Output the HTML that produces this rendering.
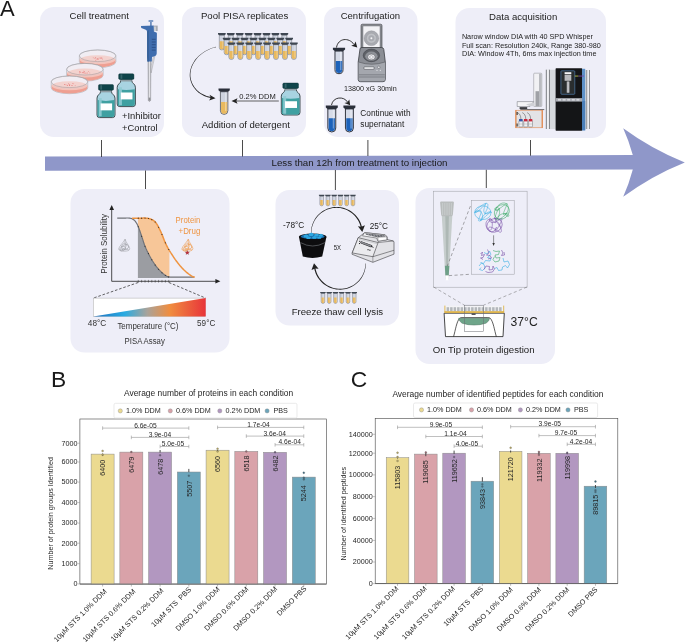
<!DOCTYPE html><html><head><meta charset="utf-8"><title>Figure</title><style>html,body{margin:0;padding:0;background:#fff}svg{display:block}</style></head><body><svg width="685" height="642" viewBox="0 0 685 642" font-family='"Liberation Sans", sans-serif'>
<rect width="685" height="642" fill="#fff"/>
<text x="0" y="15.7" font-size="22" text-anchor="start" fill="#1a1a1a" >A</text>
<text x="51" y="387.3" font-size="22.8" text-anchor="start" fill="#1a1a1a" >B</text>
<text x="350.8" y="387.4" font-size="22.8" text-anchor="start" fill="#1a1a1a" >C</text>
<rect x="40" y="7" width="124" height="130" rx="14" fill="#EEEEF8"/>
<rect x="182" y="7" width="124" height="130" rx="14" fill="#EEEEF8"/>
<rect x="324" y="7" width="93.5" height="130" rx="14" fill="#EEEEF8"/>
<rect x="455.5" y="8" width="150.5" height="130" rx="14" fill="#EEEEF8"/>
<rect x="70.5" y="189" width="159.0" height="163.5" rx="14" fill="#EEEEF8"/>
<rect x="275.5" y="190" width="123.5" height="135.5" rx="14" fill="#EEEEF8"/>
<rect x="415.5" y="188" width="139.5" height="176" rx="14" fill="#EEEEF8"/>
<path d="M45,156.6 L632.8,155.1 Q629,141 623.2,128.2 Q652,149.3 684.8,162.4 Q652,175.5 623.2,196.8 Q629,184 632.8,169.6 L45,170.8 Z" fill="#8F97C9"/>
<line x1="101.5" y1="140" x2="101.5" y2="157" stroke="#2a2a2a" stroke-width="0.85"/>
<line x1="242.5" y1="140" x2="242.5" y2="156.5" stroke="#2a2a2a" stroke-width="0.85"/>
<line x1="367.9" y1="140" x2="367.9" y2="156" stroke="#2a2a2a" stroke-width="0.85"/>
<line x1="530.5" y1="140" x2="530.5" y2="155.7" stroke="#2a2a2a" stroke-width="0.85"/>
<line x1="145.5" y1="170.5" x2="145.5" y2="189" stroke="#2a2a2a" stroke-width="0.85"/>
<line x1="335.4" y1="170" x2="335.4" y2="190" stroke="#2a2a2a" stroke-width="0.85"/>
<line x1="486.3" y1="169.8" x2="486.3" y2="188" stroke="#2a2a2a" stroke-width="0.85"/>
<text x="271.5" y="166" font-size="9.6" text-anchor="start" fill="#1a1a1a" textLength="176" lengthAdjust="spacingAndGlyphs" >Less than 12h from treatment to injection</text>
<text x="69.6" y="19" font-size="9.55" text-anchor="start" fill="#222" textLength="59.3" lengthAdjust="spacingAndGlyphs" >Cell treatment</text>
<text x="200.9" y="19" font-size="9.55" text-anchor="start" fill="#222" textLength="87.4" lengthAdjust="spacingAndGlyphs" >Pool PISA replicates</text>
<text x="340.7" y="19" font-size="9.55" text-anchor="start" fill="#222" textLength="59.3" lengthAdjust="spacingAndGlyphs" >Centrifugation</text>
<text x="489" y="20.3" font-size="9.55" text-anchor="start" fill="#222" textLength="68.3" lengthAdjust="spacingAndGlyphs" >Data acquisition</text>
<path d="M79.35,55.8 V61.9 A18.25,5.8 0 0 0 115.85,61.9 V55.8 A18.25,5.8 0 0 0 79.35,55.8 Z" fill="#F1EDF3" stroke="#9b9b9f" stroke-width="0.5"/>
<path d="M79.75,59.4 V61.8 A17.85,5.6 0 0 0 115.44999999999999,61.8 V59.4 Z" fill="#EE9F92"/>
<ellipse cx="97.6" cy="59.699999999999996" rx="17.75" ry="4.5" fill="#F5C3BA"/>
<path d="M79.64999999999999,57.0 A17.95,5.5 0 0 0 115.55,57.0" fill="none" stroke="#d9cfd4" stroke-width="0.4"/>
<ellipse cx="97.6" cy="55.8" rx="18.25" ry="5.8" fill="#F1EDF3" fill-opacity="0.35" stroke="#9b9b9f" stroke-width="0.5"/>
<circle cx="98.0" cy="58.9" r="0.42" fill="#E56E6E"/>
<circle cx="97.5" cy="58.8" r="0.42" fill="#E56E6E"/>
<circle cx="93.2" cy="57.8" r="0.42" fill="#E56E6E"/>
<circle cx="94.9" cy="58.7" r="0.42" fill="#E56E6E"/>
<circle cx="97.6" cy="59.0" r="0.42" fill="#E56E6E"/>
<circle cx="95.3" cy="57.6" r="0.42" fill="#E56E6E"/>
<circle cx="95.8" cy="60.4" r="0.42" fill="#E56E6E"/>
<circle cx="98.3" cy="59.1" r="0.42" fill="#E56E6E"/>
<circle cx="102.4" cy="59.0" r="0.42" fill="#E56E6E"/>
<circle cx="101.8" cy="57.8" r="0.42" fill="#E56E6E"/>
<circle cx="99.1" cy="58.0" r="0.42" fill="#E56E6E"/>
<circle cx="95.8" cy="57.9" r="0.42" fill="#E56E6E"/>
<circle cx="100.6" cy="58.6" r="0.42" fill="#E56E6E"/>
<circle cx="96.2" cy="59.1" r="0.42" fill="#E56E6E"/>
<circle cx="100.9" cy="57.7" r="0.42" fill="#E56E6E"/>
<circle cx="101.4" cy="58.3" r="0.42" fill="#E56E6E"/>
<path d="M66.65,69.2 V75.3 A18.25,5.8 0 0 0 103.15,75.3 V69.2 A18.25,5.8 0 0 0 66.65,69.2 Z" fill="#F1EDF3" stroke="#9b9b9f" stroke-width="0.5"/>
<path d="M67.05000000000001,72.8 V75.2 A17.85,5.6 0 0 0 102.75,75.2 V72.8 Z" fill="#EE9F92"/>
<ellipse cx="84.9" cy="73.10000000000001" rx="17.75" ry="4.5" fill="#F5C3BA"/>
<path d="M66.95,70.4 A17.95,5.5 0 0 0 102.85000000000001,70.4" fill="none" stroke="#d9cfd4" stroke-width="0.4"/>
<ellipse cx="84.9" cy="69.2" rx="18.25" ry="5.8" fill="#F1EDF3" fill-opacity="0.35" stroke="#9b9b9f" stroke-width="0.5"/>
<circle cx="88.3" cy="71.7" r="0.42" fill="#E56E6E"/>
<circle cx="79.6" cy="72.9" r="0.42" fill="#E56E6E"/>
<circle cx="82.5" cy="72.3" r="0.42" fill="#E56E6E"/>
<circle cx="84.6" cy="71.5" r="0.42" fill="#E56E6E"/>
<circle cx="82.1" cy="72.8" r="0.42" fill="#E56E6E"/>
<circle cx="85.9" cy="73.2" r="0.42" fill="#E56E6E"/>
<circle cx="83.7" cy="71.1" r="0.42" fill="#E56E6E"/>
<circle cx="84.0" cy="72.6" r="0.42" fill="#E56E6E"/>
<circle cx="89.8" cy="72.9" r="0.42" fill="#E56E6E"/>
<circle cx="84.1" cy="73.4" r="0.42" fill="#E56E6E"/>
<circle cx="80.0" cy="72.6" r="0.42" fill="#E56E6E"/>
<circle cx="83.8" cy="72.5" r="0.42" fill="#E56E6E"/>
<circle cx="86.0" cy="72.9" r="0.42" fill="#E56E6E"/>
<circle cx="87.7" cy="73.0" r="0.42" fill="#E56E6E"/>
<circle cx="80.3" cy="72.0" r="0.42" fill="#E56E6E"/>
<circle cx="79.6" cy="71.5" r="0.42" fill="#E56E6E"/>
<path d="M51.25,81.8 V87.89999999999999 A18.25,5.8 0 0 0 87.75,87.89999999999999 V81.8 A18.25,5.8 0 0 0 51.25,81.8 Z" fill="#F1EDF3" stroke="#9b9b9f" stroke-width="0.5"/>
<path d="M51.65,85.39999999999999 V87.8 A17.85,5.6 0 0 0 87.35,87.8 V85.39999999999999 Z" fill="#EE9F92"/>
<ellipse cx="69.5" cy="85.7" rx="17.75" ry="4.5" fill="#F5C3BA"/>
<path d="M51.55,83.0 A17.95,5.5 0 0 0 87.45,83.0" fill="none" stroke="#d9cfd4" stroke-width="0.4"/>
<ellipse cx="69.5" cy="81.8" rx="18.25" ry="5.8" fill="#F1EDF3" fill-opacity="0.35" stroke="#9b9b9f" stroke-width="0.5"/>
<circle cx="72.6" cy="85.6" r="0.42" fill="#E56E6E"/>
<circle cx="72.7" cy="83.4" r="0.42" fill="#E56E6E"/>
<circle cx="69.3" cy="85.4" r="0.42" fill="#E56E6E"/>
<circle cx="69.0" cy="84.2" r="0.42" fill="#E56E6E"/>
<circle cx="67.4" cy="85.2" r="0.42" fill="#E56E6E"/>
<circle cx="69.9" cy="84.8" r="0.42" fill="#E56E6E"/>
<circle cx="69.5" cy="85.0" r="0.42" fill="#E56E6E"/>
<circle cx="71.3" cy="85.7" r="0.42" fill="#E56E6E"/>
<circle cx="69.6" cy="85.6" r="0.42" fill="#E56E6E"/>
<circle cx="64.9" cy="84.5" r="0.42" fill="#E56E6E"/>
<circle cx="75.1" cy="85.3" r="0.42" fill="#E56E6E"/>
<circle cx="64.6" cy="84.6" r="0.42" fill="#E56E6E"/>
<circle cx="66.0" cy="84.8" r="0.42" fill="#E56E6E"/>
<circle cx="68.5" cy="83.6" r="0.42" fill="#E56E6E"/>
<circle cx="73.7" cy="83.8" r="0.42" fill="#E56E6E"/>
<circle cx="67.2" cy="85.5" r="0.42" fill="#E56E6E"/>
<path d="M100.60,90.21 V91.53 C100.60,94.50 97.00,94.50 97.00,98.13 V115.08 Q97.00,117.60 99.52,117.60 H112.48 Q115.00,117.60 115.00,115.08 V98.13 C115.00,94.50 111.40,94.50 111.40,91.53 V90.21 Z" fill="#A8D3E1" stroke="#1d2a2c" stroke-width="0.8"/>
<path d="M97.60,100.11 V115.08 Q97.60,117.00 99.52,117.00 H112.48 Q114.40,117.00 114.40,115.08 V100.11 Q106.00,101.76 97.60,100.11 Z" fill="#3FA0A1"/>
<rect x="98.80" y="98.13" width="2.88" height="18.15" fill="#8FCBD3" opacity="0.9"/>
<rect x="100.60" y="103.41" width="11.52" height="6.93" fill="#fff"/>
<rect x="100.90" y="90.21" width="10.20" height="2.15" fill="#8E9CA3"/>
<rect x="98.44" y="84.60" width="15.12" height="5.61" rx="1.2" fill="#0F444A" stroke="#0b2f33" stroke-width="0.4"/>
<rect x="100.25" y="85.20" width="1.81" height="4.41" fill="#3d6b70" opacity="0.8"/>
<path d="M120.84,79.38 V80.69 C120.84,83.64 117.20,83.64 117.20,87.25 V104.05 Q117.20,106.60 119.75,106.60 H132.85 Q135.40,106.60 135.40,104.05 V87.25 C135.40,83.64 131.76,83.64 131.76,80.69 V79.38 Z" fill="#A8D3E1" stroke="#1d2a2c" stroke-width="0.8"/>
<path d="M117.80,89.22 V104.05 Q117.80,106.00 119.75,106.00 H132.85 Q134.80,106.00 134.80,104.05 V89.22 Q126.30,90.86 117.80,89.22 Z" fill="#3FA0A1"/>
<rect x="119.02" y="87.25" width="2.91" height="18.04" fill="#8FCBD3" opacity="0.9"/>
<rect x="120.84" y="92.50" width="11.65" height="6.89" fill="#fff"/>
<rect x="121.14" y="79.38" width="10.32" height="2.13" fill="#8E9CA3"/>
<rect x="118.66" y="73.80" width="15.29" height="5.58" rx="1.2" fill="#0F444A" stroke="#0b2f33" stroke-width="0.4"/>
<rect x="120.49" y="74.40" width="1.83" height="4.38" fill="#3d6b70" opacity="0.8"/>
<g>
<rect x="150" y="21.5" width="1.8" height="4.5" fill="#6F8FBF"/>
<rect x="148.4" y="20.1" width="5" height="2" rx="0.8" fill="#7E9CC8"/>
<path d="M147.9,60 L148.2,100.3 Q149.4,103 150.7,100.3 L151,60 Z" fill="#B9BABF" stroke="#85868c" stroke-width="0.35"/>
<rect x="149" y="61" width="0.8" height="37" fill="#EDEDF0"/>
<rect x="148.6" y="97.6" width="1.8" height="3" fill="#8d8e94"/>
<path d="M155,55.5 L151.2,73 L151.1,66 L153.6,55.5 Z" fill="#D9D9DE" stroke="#8a8a90" stroke-width="0.35"/>
<rect x="153.4" y="25.6" width="4.3" height="5.4" fill="#A7ABB3"/>
<rect x="154.4" y="26.6" width="1.2" height="4.4" fill="#E5E6EA"/>
<path d="M140.9,25.9 L153.6,25.6 L153.9,31.6 L156.3,32.4 Q156.9,32.6 156.9,33.4 L156.7,53.5 Q156.6,55.4 155.2,56 L152,57 L151.8,61.4 H147.4 L147.1,56.7 L147,31.5 Q146.9,29.8 145.2,29.4 L141.3,27.9 Z" fill="#3F6DAE"/>
<path d="M147.1,31.5 V56.7 L147.4,61.4 H149 V30 Z" fill="#386299"/>
<line x1="151.8" y1="39.3" x2="155.7" y2="39.3" stroke="#2A4D86" stroke-width="0.9"/>
<line x1="151.8" y1="42.0" x2="155.7" y2="42.0" stroke="#2A4D86" stroke-width="0.9"/>
<line x1="151.8" y1="44.699999999999996" x2="155.7" y2="44.699999999999996" stroke="#2A4D86" stroke-width="0.9"/>
<line x1="151.8" y1="47.4" x2="155.7" y2="47.4" stroke="#2A4D86" stroke-width="0.9"/>
<line x1="151.8" y1="50.099999999999994" x2="155.7" y2="50.099999999999994" stroke="#2A4D86" stroke-width="0.9"/>
</g>
<text x="122" y="119.2" font-size="9.4" text-anchor="start" fill="#222" textLength="38.9" lengthAdjust="spacingAndGlyphs" >+Inhibitor</text>
<text x="122" y="131.3" font-size="9.4" text-anchor="start" fill="#222" textLength="35.6" lengthAdjust="spacingAndGlyphs" >+Control</text>
<path d="M219.31,35.21 V47.46 A2.54,2.54 0 0 0 224.39,47.46 V35.21 Z" fill="#CDD2DF" stroke="#6b7078" stroke-width="0.5"/>
<path d="M219.76,41.13 V47.46 A2.09,2.09 0 0 0 223.94,47.46 V41.13 Z" fill="#E9B95E"/>
<rect x="222.46" y="35.71" width="0.91" height="12.25" fill="#fff" opacity="0.35"/>
<path d="M218.00,33.00 H225.70 V34.22 L224.62,35.21 H219.08 L218.00,34.22 Z" fill="#3F4752"/>
<path d="M228.24,35.21 V47.46 A2.54,2.54 0 0 0 233.32,47.46 V35.21 Z" fill="#CDD2DF" stroke="#6b7078" stroke-width="0.5"/>
<path d="M228.69,41.13 V47.46 A2.09,2.09 0 0 0 232.87,47.46 V41.13 Z" fill="#E9B95E"/>
<rect x="231.39" y="35.71" width="0.91" height="12.25" fill="#fff" opacity="0.35"/>
<path d="M226.93,33.00 H234.63 V34.22 L233.55,35.21 H228.01 L226.93,34.22 Z" fill="#3F4752"/>
<path d="M237.17,35.21 V47.46 A2.54,2.54 0 0 0 242.25,47.46 V35.21 Z" fill="#CDD2DF" stroke="#6b7078" stroke-width="0.5"/>
<path d="M237.62,41.13 V47.46 A2.09,2.09 0 0 0 241.80,47.46 V41.13 Z" fill="#E9B95E"/>
<rect x="240.32" y="35.71" width="0.91" height="12.25" fill="#fff" opacity="0.35"/>
<path d="M235.86,33.00 H243.56 V34.22 L242.48,35.21 H236.94 L235.86,34.22 Z" fill="#3F4752"/>
<path d="M246.10,35.21 V47.46 A2.54,2.54 0 0 0 251.18,47.46 V35.21 Z" fill="#CDD2DF" stroke="#6b7078" stroke-width="0.5"/>
<path d="M246.55,41.13 V47.46 A2.09,2.09 0 0 0 250.73,47.46 V41.13 Z" fill="#E9B95E"/>
<rect x="249.25" y="35.71" width="0.91" height="12.25" fill="#fff" opacity="0.35"/>
<path d="M244.79,33.00 H252.49 V34.22 L251.41,35.21 H245.87 L244.79,34.22 Z" fill="#3F4752"/>
<path d="M255.03,35.21 V47.46 A2.54,2.54 0 0 0 260.11,47.46 V35.21 Z" fill="#CDD2DF" stroke="#6b7078" stroke-width="0.5"/>
<path d="M255.48,41.13 V47.46 A2.09,2.09 0 0 0 259.66,47.46 V41.13 Z" fill="#E9B95E"/>
<rect x="258.18" y="35.71" width="0.91" height="12.25" fill="#fff" opacity="0.35"/>
<path d="M253.72,33.00 H261.42 V34.22 L260.34,35.21 H254.80 L253.72,34.22 Z" fill="#3F4752"/>
<path d="M263.96,35.21 V47.46 A2.54,2.54 0 0 0 269.04,47.46 V35.21 Z" fill="#CDD2DF" stroke="#6b7078" stroke-width="0.5"/>
<path d="M264.41,41.13 V47.46 A2.09,2.09 0 0 0 268.59,47.46 V41.13 Z" fill="#E9B95E"/>
<rect x="267.11" y="35.71" width="0.91" height="12.25" fill="#fff" opacity="0.35"/>
<path d="M262.65,33.00 H270.35 V34.22 L269.27,35.21 H263.73 L262.65,34.22 Z" fill="#3F4752"/>
<path d="M272.89,35.21 V47.46 A2.54,2.54 0 0 0 277.97,47.46 V35.21 Z" fill="#CDD2DF" stroke="#6b7078" stroke-width="0.5"/>
<path d="M273.34,41.13 V47.46 A2.09,2.09 0 0 0 277.52,47.46 V41.13 Z" fill="#E9B95E"/>
<rect x="276.04" y="35.71" width="0.91" height="12.25" fill="#fff" opacity="0.35"/>
<path d="M271.58,33.00 H279.28 V34.22 L278.20,35.21 H272.66 L271.58,34.22 Z" fill="#3F4752"/>
<path d="M281.82,35.21 V47.46 A2.54,2.54 0 0 0 286.90,47.46 V35.21 Z" fill="#CDD2DF" stroke="#6b7078" stroke-width="0.5"/>
<path d="M282.27,41.13 V47.46 A2.09,2.09 0 0 0 286.45,47.46 V41.13 Z" fill="#E9B95E"/>
<rect x="284.97" y="35.71" width="0.91" height="12.25" fill="#fff" opacity="0.35"/>
<path d="M280.51,33.00 H288.21 V34.22 L287.13,35.21 H281.59 L280.51,34.22 Z" fill="#3F4752"/>
<path d="M224.11,40.01 V52.26 A2.54,2.54 0 0 0 229.19,52.26 V40.01 Z" fill="#CDD2DF" stroke="#6b7078" stroke-width="0.5"/>
<path d="M224.56,45.93 V52.26 A2.09,2.09 0 0 0 228.74,52.26 V45.93 Z" fill="#E9B95E"/>
<rect x="227.26" y="40.51" width="0.91" height="12.25" fill="#fff" opacity="0.35"/>
<path d="M222.80,37.80 H230.50 V39.02 L229.42,40.01 H223.88 L222.80,39.02 Z" fill="#3F4752"/>
<path d="M233.04,40.01 V52.26 A2.54,2.54 0 0 0 238.12,52.26 V40.01 Z" fill="#CDD2DF" stroke="#6b7078" stroke-width="0.5"/>
<path d="M233.49,45.93 V52.26 A2.09,2.09 0 0 0 237.67,52.26 V45.93 Z" fill="#E9B95E"/>
<rect x="236.19" y="40.51" width="0.91" height="12.25" fill="#fff" opacity="0.35"/>
<path d="M231.73,37.80 H239.43 V39.02 L238.35,40.01 H232.81 L231.73,39.02 Z" fill="#3F4752"/>
<path d="M241.97,40.01 V52.26 A2.54,2.54 0 0 0 247.05,52.26 V40.01 Z" fill="#CDD2DF" stroke="#6b7078" stroke-width="0.5"/>
<path d="M242.42,45.93 V52.26 A2.09,2.09 0 0 0 246.60,52.26 V45.93 Z" fill="#E9B95E"/>
<rect x="245.12" y="40.51" width="0.91" height="12.25" fill="#fff" opacity="0.35"/>
<path d="M240.66,37.80 H248.36 V39.02 L247.28,40.01 H241.74 L240.66,39.02 Z" fill="#3F4752"/>
<path d="M250.90,40.01 V52.26 A2.54,2.54 0 0 0 255.98,52.26 V40.01 Z" fill="#CDD2DF" stroke="#6b7078" stroke-width="0.5"/>
<path d="M251.35,45.93 V52.26 A2.09,2.09 0 0 0 255.53,52.26 V45.93 Z" fill="#E9B95E"/>
<rect x="254.05" y="40.51" width="0.91" height="12.25" fill="#fff" opacity="0.35"/>
<path d="M249.59,37.80 H257.29 V39.02 L256.21,40.01 H250.67 L249.59,39.02 Z" fill="#3F4752"/>
<path d="M259.83,40.01 V52.26 A2.54,2.54 0 0 0 264.91,52.26 V40.01 Z" fill="#CDD2DF" stroke="#6b7078" stroke-width="0.5"/>
<path d="M260.28,45.93 V52.26 A2.09,2.09 0 0 0 264.46,52.26 V45.93 Z" fill="#E9B95E"/>
<rect x="262.98" y="40.51" width="0.91" height="12.25" fill="#fff" opacity="0.35"/>
<path d="M258.52,37.80 H266.22 V39.02 L265.14,40.01 H259.60 L258.52,39.02 Z" fill="#3F4752"/>
<path d="M268.76,40.01 V52.26 A2.54,2.54 0 0 0 273.84,52.26 V40.01 Z" fill="#CDD2DF" stroke="#6b7078" stroke-width="0.5"/>
<path d="M269.21,45.93 V52.26 A2.09,2.09 0 0 0 273.39,52.26 V45.93 Z" fill="#E9B95E"/>
<rect x="271.91" y="40.51" width="0.91" height="12.25" fill="#fff" opacity="0.35"/>
<path d="M267.45,37.80 H275.15 V39.02 L274.07,40.01 H268.53 L267.45,39.02 Z" fill="#3F4752"/>
<path d="M277.69,40.01 V52.26 A2.54,2.54 0 0 0 282.77,52.26 V40.01 Z" fill="#CDD2DF" stroke="#6b7078" stroke-width="0.5"/>
<path d="M278.14,45.93 V52.26 A2.09,2.09 0 0 0 282.32,52.26 V45.93 Z" fill="#E9B95E"/>
<rect x="280.84" y="40.51" width="0.91" height="12.25" fill="#fff" opacity="0.35"/>
<path d="M276.38,37.80 H284.08 V39.02 L283.00,40.01 H277.46 L276.38,39.02 Z" fill="#3F4752"/>
<path d="M286.62,40.01 V52.26 A2.54,2.54 0 0 0 291.70,52.26 V40.01 Z" fill="#CDD2DF" stroke="#6b7078" stroke-width="0.5"/>
<path d="M287.07,45.93 V52.26 A2.09,2.09 0 0 0 291.25,52.26 V45.93 Z" fill="#E9B95E"/>
<rect x="289.77" y="40.51" width="0.91" height="12.25" fill="#fff" opacity="0.35"/>
<path d="M285.31,37.80 H293.01 V39.02 L291.93,40.01 H286.39 L285.31,39.02 Z" fill="#3F4752"/>
<path d="M228.81,44.71 V56.96 A2.54,2.54 0 0 0 233.89,56.96 V44.71 Z" fill="#CDD2DF" stroke="#6b7078" stroke-width="0.5"/>
<path d="M229.26,50.92 V56.96 A2.09,2.09 0 0 0 233.44,56.96 V50.92 Z" fill="#E9B95E"/>
<rect x="231.96" y="45.21" width="0.91" height="12.25" fill="#fff" opacity="0.35"/>
<path d="M227.50,42.50 H235.20 V43.72 L234.12,44.71 H228.58 L227.50,43.72 Z" fill="#3F4752"/>
<path d="M237.74,44.71 V56.96 A2.54,2.54 0 0 0 242.82,56.96 V44.71 Z" fill="#CDD2DF" stroke="#6b7078" stroke-width="0.5"/>
<path d="M238.19,50.92 V56.96 A2.09,2.09 0 0 0 242.37,56.96 V50.92 Z" fill="#E9B95E"/>
<rect x="240.89" y="45.21" width="0.91" height="12.25" fill="#fff" opacity="0.35"/>
<path d="M236.43,42.50 H244.13 V43.72 L243.05,44.71 H237.51 L236.43,43.72 Z" fill="#3F4752"/>
<path d="M246.67,44.71 V56.96 A2.54,2.54 0 0 0 251.75,56.96 V44.71 Z" fill="#CDD2DF" stroke="#6b7078" stroke-width="0.5"/>
<path d="M247.12,50.92 V56.96 A2.09,2.09 0 0 0 251.30,56.96 V50.92 Z" fill="#E9B95E"/>
<rect x="249.82" y="45.21" width="0.91" height="12.25" fill="#fff" opacity="0.35"/>
<path d="M245.36,42.50 H253.06 V43.72 L251.98,44.71 H246.44 L245.36,43.72 Z" fill="#3F4752"/>
<path d="M255.60,44.71 V56.96 A2.54,2.54 0 0 0 260.68,56.96 V44.71 Z" fill="#CDD2DF" stroke="#6b7078" stroke-width="0.5"/>
<path d="M256.05,50.92 V56.96 A2.09,2.09 0 0 0 260.23,56.96 V50.92 Z" fill="#E9B95E"/>
<rect x="258.75" y="45.21" width="0.91" height="12.25" fill="#fff" opacity="0.35"/>
<path d="M254.29,42.50 H261.99 V43.72 L260.91,44.71 H255.37 L254.29,43.72 Z" fill="#3F4752"/>
<path d="M264.53,44.71 V56.96 A2.54,2.54 0 0 0 269.61,56.96 V44.71 Z" fill="#CDD2DF" stroke="#6b7078" stroke-width="0.5"/>
<path d="M264.98,50.92 V56.96 A2.09,2.09 0 0 0 269.16,56.96 V50.92 Z" fill="#E9B95E"/>
<rect x="267.68" y="45.21" width="0.91" height="12.25" fill="#fff" opacity="0.35"/>
<path d="M263.22,42.50 H270.92 V43.72 L269.84,44.71 H264.30 L263.22,43.72 Z" fill="#3F4752"/>
<path d="M273.46,44.71 V56.96 A2.54,2.54 0 0 0 278.54,56.96 V44.71 Z" fill="#CDD2DF" stroke="#6b7078" stroke-width="0.5"/>
<path d="M273.91,50.92 V56.96 A2.09,2.09 0 0 0 278.09,56.96 V50.92 Z" fill="#E9B95E"/>
<rect x="276.61" y="45.21" width="0.91" height="12.25" fill="#fff" opacity="0.35"/>
<path d="M272.15,42.50 H279.85 V43.72 L278.77,44.71 H273.23 L272.15,43.72 Z" fill="#3F4752"/>
<path d="M282.39,44.71 V56.96 A2.54,2.54 0 0 0 287.47,56.96 V44.71 Z" fill="#CDD2DF" stroke="#6b7078" stroke-width="0.5"/>
<path d="M282.84,50.92 V56.96 A2.09,2.09 0 0 0 287.02,56.96 V50.92 Z" fill="#E9B95E"/>
<rect x="285.54" y="45.21" width="0.91" height="12.25" fill="#fff" opacity="0.35"/>
<path d="M281.08,42.50 H288.78 V43.72 L287.70,44.71 H282.16 L281.08,43.72 Z" fill="#3F4752"/>
<path d="M291.32,44.71 V56.96 A2.54,2.54 0 0 0 296.40,56.96 V44.71 Z" fill="#CDD2DF" stroke="#6b7078" stroke-width="0.5"/>
<path d="M291.77,50.92 V56.96 A2.09,2.09 0 0 0 295.95,56.96 V50.92 Z" fill="#E9B95E"/>
<rect x="294.47" y="45.21" width="0.91" height="12.25" fill="#fff" opacity="0.35"/>
<path d="M290.01,42.50 H297.71 V43.72 L296.63,44.71 H291.09 L290.01,43.72 Z" fill="#3F4752"/>
<path d="M220.42,91.78 V110.67 A3.73,3.73 0 0 0 227.88,110.67 V91.78 Z" fill="#CDD2DF" stroke="#3a3e46" stroke-width="0.7"/>
<path d="M221.05,101.96 V110.67 A3.10,3.10 0 0 0 227.25,110.67 V101.96 Z" fill="#E9B95E"/>
<rect x="225.04" y="92.28" width="1.34" height="18.89" fill="#fff" opacity="0.35"/>
<path d="M218.50,88.40 H229.80 V90.26 L228.22,91.78 H220.08 L218.50,90.26 Z" fill="#2a2f3a"/>
<path d="M285.04,88.44 V89.72 C285.04,92.60 281.30,92.60 281.30,96.12 V112.38 Q281.30,115.00 283.92,115.00 H297.38 Q300.00,115.00 300.00,112.38 V96.12 C300.00,92.60 296.26,92.60 296.26,89.72 V88.44 Z" fill="#A8D3E1" stroke="#1d2a2c" stroke-width="0.8"/>
<path d="M281.90,98.04 V112.38 Q281.90,114.40 283.92,114.40 H297.38 Q299.40,114.40 299.40,112.38 V98.04 Q290.65,99.64 281.90,98.04 Z" fill="#3FA0A1"/>
<rect x="283.17" y="96.12" width="2.99" height="17.60" fill="#8FCBD3" opacity="0.9"/>
<rect x="285.04" y="101.24" width="11.97" height="6.72" fill="#fff"/>
<rect x="285.34" y="88.44" width="10.62" height="2.08" fill="#8E9CA3"/>
<rect x="282.80" y="83.00" width="15.71" height="5.44" rx="1.2" fill="#0F444A" stroke="#0b2f33" stroke-width="0.4"/>
<rect x="284.68" y="83.60" width="1.88" height="4.24" fill="#3d6b70" opacity="0.8"/>
<path d="M215.96,46.86 L213.52,47.53 L211.19,48.32 L208.99,49.20 L206.91,50.18 L204.95,51.25 L203.12,52.40 L201.40,53.63 L199.81,54.92 L198.33,56.27 L196.98,57.67 L195.74,59.12 L194.62,60.61 L193.62,62.14 L192.73,63.69 L191.96,65.25 L191.31,66.83 L190.77,68.42 L190.34,70.00 L190.03,71.57 L189.84,73.13 L189.75,74.67 L189.78,76.17 L189.93,77.64 L190.18,79.07 L190.53,80.44 L190.94,81.76 L191.41,83.02 L191.94,84.24 L192.53,85.40 L193.18,86.52 L193.88,87.58 L194.63,88.59 L195.42,89.55 L196.26,90.46 L197.13,91.32 L198.05,92.13 L199.00,92.89 L199.98,93.60 L200.99,94.26 L202.03,94.87 L203.09,95.43 L204.17,95.94 L205.27,96.40 L206.38,96.82 L207.50,97.18 L208.64,97.50 L209.77,97.77 L210.91,97.99 L211.09,97.01 L209.98,96.81 L208.87,96.56 L207.77,96.27 L206.68,95.93 L205.60,95.54 L204.54,95.11 L203.49,94.62 L202.45,94.09 L201.44,93.52 L200.46,92.89 L199.50,92.22 L198.58,91.50 L197.68,90.72 L196.82,89.90 L196.00,89.03 L195.23,88.11 L194.49,87.14 L193.80,86.12 L193.17,85.05 L192.58,83.93 L192.05,82.76 L191.58,81.53 L191.17,80.26 L190.82,78.93 L190.56,77.56 L190.40,76.14 L190.36,74.68 L190.43,73.18 L190.60,71.66 L190.89,70.12 L191.29,68.57 L191.81,67.02 L192.43,65.47 L193.18,63.92 L194.03,62.39 L195.01,60.89 L196.10,59.41 L197.31,57.97 L198.63,56.58 L200.08,55.23 L201.65,53.94 L203.33,52.72 L205.14,51.57 L207.07,50.50 L209.13,49.52 L211.31,48.62 L213.61,47.83 L216.04,47.14 Z" fill="#222"/>
<path d="M215.5,98.3 L209.5,94.8 L210.8,97.6 L209.2,100.6 Z" fill="#222"/>
<line x1="235" y1="101" x2="278.8" y2="101" stroke="#222" stroke-width="0.7"/>
<path d="M231.5,101 L237.5,98.2 L236.3,101 L237.5,103.8 Z" fill="#222"/>
<text x="239.3" y="99.3" font-size="7.6" text-anchor="start" fill="#222" textLength="36.5" lengthAdjust="spacingAndGlyphs" >0.2% DDM</text>
<text x="245.8" y="127.6" font-size="9.55" text-anchor="middle" fill="#222" >Addition of detergent</text>
<path d="M334.97,51.08 V69.67 A4.03,4.03 0 0 0 343.03,69.67 V51.08 Z" fill="#D6DBE8" stroke="#20242e" stroke-width="0.9"/>
<path d="M335.78,61.03 V69.67 A3.22,3.22 0 0 0 342.22,69.67 V61.03 Z" fill="#1C62BA"/>
<rect x="339.97" y="51.58" width="1.45" height="18.59" fill="#fff" opacity="0.35"/>
<path d="M332.90,47.70 H345.10 V49.56 L343.39,51.08 H334.61 L332.90,49.56 Z" fill="#2a2f3a"/>
<path d="M336.5,47.5 C338,38 349,37 354,44.5" fill="none" stroke="#222" stroke-width="0.9"/>
<path d="M357.3,47.6 L351.2,45.8 L354.2,44.6 L355.6,41.6 Z" fill="#222"/>
<rect x="361" y="24.2" width="21" height="24.5" rx="1.4" fill="#8E9196" stroke="#3b3d42" stroke-width="0.6"/>
<rect x="363" y="26" width="17" height="22.7" fill="#F2F2F5" stroke="#5b5d63" stroke-width="0.4"/>
<circle cx="371.4" cy="38.2" r="7.4" fill="#A9ABB1" stroke="#8a8c92" stroke-width="0.4"/>
<circle cx="371.4" cy="38.2" r="5" fill="#BFC1C6" stroke="#97999f" stroke-width="0.4"/>
<circle cx="371.4" cy="38.2" r="3" fill="#A9ABB1"/>
<circle cx="371.4" cy="38.2" r="1" fill="#F5F5F7"/>
<path d="M360,49 Q360,47.5 362,47.5 H381.5 Q383.5,47.5 383.8,49.5 L385.3,62 V79.5 Q385.3,81.7 383,81.7 H360.5 Q358.2,81.7 358.2,79.5 V62 Z" fill="#8B8E95" stroke="#3b3d42" stroke-width="0.8"/>
<path d="M358.6,62 Q371.7,66.5 385,62 V79.5 Q385,81.3 383,81.3 H360.5 Q358.6,81.3 358.6,79.5 Z" fill="#A4A7AE"/>
<path d="M358.6,62 Q371.7,66.5 385,62" fill="none" stroke="#4a4c52" stroke-width="0.5"/>
<ellipse cx="371.4" cy="55.4" rx="8.2" ry="6.3" fill="#5E6167" stroke="#3b3d42" stroke-width="0.5"/>
<ellipse cx="371.4" cy="56.2" rx="6.2" ry="4.6" fill="#8E9197"/>
<ellipse cx="371.4" cy="57" rx="3.8" ry="2.9" fill="#F0F0F3" stroke="#4b4d52" stroke-width="0.5"/>
<path d="M369.2,57 L371.4,55.4 L373.6,57 L371.4,58.8 Z" fill="none" stroke="#6b6d72" stroke-width="0.4"/>
<rect x="364" y="66.8" width="10" height="2.6" rx="0.5" fill="#E9EAEE" stroke="#3b3d42" stroke-width="0.5"/>
<circle cx="378.8" cy="67.3" r="1.2" fill="#E9EAEE" stroke="#3b3d42" stroke-width="0.4"/>
<circle cx="377" cy="70.3" r="0.6" fill="#E9EAEE"/><circle cx="380.3" cy="70.3" r="0.6" fill="#E9EAEE"/>
<path d="M359,74.8 H384.8 M359,77 H384.8" stroke="#5b5d63" stroke-width="0.5"/>
<text x="344" y="91.3" font-size="7.2" text-anchor="start" fill="#222" textLength="52.7" lengthAdjust="spacingAndGlyphs" >13800 xG 30min</text>
<path d="M327.84,108.94 V128.04 A3.96,3.96 0 0 0 335.76,128.04 V108.94 Z" fill="#D6DBE8" stroke="#20242e" stroke-width="0.9"/>
<path d="M328.65,118.17 V128.04 A3.15,3.15 0 0 0 334.95,128.04 V118.17 Z" fill="#1C62BA"/>
<rect x="332.75" y="109.44" width="1.43" height="19.09" fill="#fff" opacity="0.35"/>
<path d="M325.80,105.50 H337.80 V107.39 L336.12,108.94 H327.48 L325.80,107.39 Z" fill="#2a2f3a"/>
<path d="M345.44,108.94 V128.04 A3.96,3.96 0 0 0 353.36,128.04 V108.94 Z" fill="#D6DBE8" stroke="#20242e" stroke-width="0.9"/>
<path d="M346.25,118.17 V128.04 A3.15,3.15 0 0 0 352.55,128.04 V118.17 Z" fill="#1C62BA"/>
<rect x="350.35" y="109.44" width="1.43" height="19.09" fill="#fff" opacity="0.35"/>
<path d="M343.40,105.50 H355.40 V107.39 L353.72,108.94 H345.08 L343.40,107.39 Z" fill="#2a2f3a"/>
<path d="M331.5,105 C333,96.5 344,96 347.5,102" fill="none" stroke="#222" stroke-width="0.9"/>
<path d="M350.2,105.3 L344.4,103 L347.5,102.2 L349.3,99.4 Z" fill="#222"/>
<text x="360.3" y="116.2" font-size="8.5" text-anchor="start" fill="#222" textLength="50.2" lengthAdjust="spacingAndGlyphs" >Continue with</text>
<text x="360.3" y="126.6" font-size="8.5" text-anchor="start" fill="#222" textLength="44" lengthAdjust="spacingAndGlyphs" >supernatant</text>
<text x="461.9" y="39.2" font-size="6.9" text-anchor="start" fill="#222" textLength="131" lengthAdjust="spacingAndGlyphs" >Narow window DIA with 40 SPD Whisper</text>
<text x="461.9" y="47.8" font-size="6.9" text-anchor="start" fill="#222" textLength="139" lengthAdjust="spacingAndGlyphs" >Full scan: Resolution 240k, Range 380-980</text>
<text x="461.9" y="56.3" font-size="6.9" text-anchor="start" fill="#222" textLength="134.6" lengthAdjust="spacingAndGlyphs" >DIA: Window 4Th, 6ms max injection time</text>
<rect x="546.2" y="69.7" width="9.6" height="59.3" fill="#D6D9DD"/>
<path d="M546.3,69.7 V129 M549.4,69.7 V129" stroke="#3d3f44" stroke-width="0.6" fill="none"/>
<rect x="547" y="69.7" width="1.8" height="59.3" fill="#F0F1F4"/>
<rect x="585" y="70" width="4.6" height="59" fill="#D6D9DD"/>
<path d="M586.9,70 V129 M589.3,70 V129" stroke="#3d3f44" stroke-width="0.6" fill="none"/>
<rect x="587.4" y="70" width="1.5" height="59" fill="#F0F1F4"/>
<rect x="555.6" y="68.3" width="26.6" height="62.4" rx="0.6" fill="#141517"/>
<rect x="582" y="68.8" width="3.2" height="61.5" fill="#5E92C8"/>
<rect x="582" y="101" width="3.2" height="29.3" fill="#4A7FB8"/>
<rect x="555.6" y="98.1" width="26.6" height="3.5" fill="#A8ABB2"/>
<rect x="558" y="99.3" width="3" height="1.1" fill="#ECEDF0"/>
<rect x="562.6" y="99.3" width="3" height="1.1" fill="#ECEDF0"/>
<rect x="567.2" y="99.3" width="3" height="1.1" fill="#ECEDF0"/>
<rect x="571.8" y="99.3" width="3" height="1.1" fill="#ECEDF0"/>
<rect x="576.4" y="99.3" width="3" height="1.1" fill="#ECEDF0"/>
<rect x="560.9" y="70.8" width="13.9" height="23.5" rx="0.8" fill="#2A2E2F" stroke="#5B97CF" stroke-width="0.55"/>
<rect x="564.6" y="72.2" width="6.7" height="1.8" fill="#F4F4F6"/>
<rect x="564.6" y="74.6" width="6.7" height="6.2" fill="#B8B9BC"/>
<rect x="566.7" y="81.5" width="2.8" height="11.2" fill="#A4A6AA"/>
<rect x="567.6" y="81.5" width="0.9" height="11.2" fill="#d9dadd"/>
<rect x="574.8" y="75.6" width="3.6" height="0.9" fill="#B8C44A"/><rect x="578.4" y="75.6" width="5.6" height="0.9" fill="#7B4AA8"/>
<rect x="533.7" y="73.2" width="8.1" height="33.3" rx="0.8" fill="#F1F1F4" stroke="#8b8d92" stroke-width="0.5"/>
<rect x="539" y="73.6" width="2.6" height="32.6" fill="#B9BBC0"/>
<rect x="535.5" y="91.2" width="3.5" height="15" fill="#9FA1A6"/>
<path d="M517.2,101.6 H533.7 L530,106.5 H517.2 Z" fill="#F4F4F6" stroke="#6d6f75" stroke-width="0.5"/>
<path d="M526,104.2 L534.5,102.5 V106.3 H530 Z" fill="#cfd0d5"/>
<rect x="519.6" y="107.2" width="7.6" height="1.7" fill="#2a2b2e"/>
<line x1="520.3" y1="109.6" x2="544.3" y2="109.6" stroke="#2a2b2e" stroke-width="0.7"/>
<rect x="515.4" y="110.2" width="27.3" height="17.5" fill="#E3E3E6"/>
<path d="M515.9,110.2 V127.7 M542.2,110.2 V127.7" stroke="#E0762F" stroke-width="1.1" fill="none"/>
<path d="M515.4,110.4 H542.7 M515.4,127.6 H542.7" stroke="#E0762F" stroke-width="0.5" fill="none"/>
<rect x="516.6" y="112" width="1" height="3" fill="#222"/><rect x="516.6" y="123.5" width="1" height="3" fill="#222"/>
<rect x="518.9" y="120.5" width="3.9" height="6.4" rx="0.6" fill="#F1F1F3" stroke="#55575c" stroke-width="0.4"/>
<rect x="519.1" y="119" width="3.5" height="2.4" fill="#3558A8"/>
<line x1="518.9" y1="124" x2="522.8" y2="124" stroke="#77797e" stroke-width="0.3"/>
<path d="M520.9,119 C520.9,115.5 519.4,113.5 517.4,112.6" fill="none" stroke="#222" stroke-width="0.4"/>
<rect x="523.75" y="120.5" width="3.9" height="6.4" rx="0.6" fill="#F1F1F3" stroke="#55575c" stroke-width="0.4"/>
<rect x="523.95" y="119" width="3.5" height="2.4" fill="#C8283C"/>
<line x1="523.75" y1="124" x2="527.65" y2="124" stroke="#77797e" stroke-width="0.3"/>
<path d="M525.75,119 C525.75,115.5 524.25,113.5 522.25,112.6" fill="none" stroke="#222" stroke-width="0.4"/>
<rect x="528.6" y="120.5" width="3.9" height="6.4" rx="0.6" fill="#F1F1F3" stroke="#55575c" stroke-width="0.4"/>
<rect x="528.8000000000001" y="119" width="3.5" height="2.4" fill="#C8283C"/>
<line x1="528.6" y1="124" x2="532.5" y2="124" stroke="#77797e" stroke-width="0.3"/>
<path d="M530.6,119 C530.6,115.5 529.1,113.5 527.1,112.6" fill="none" stroke="#222" stroke-width="0.4"/>
<path d="M137.90,218.13 L138.69,218.13 L139.47,218.13 L140.26,218.14 L141.05,218.14 L141.84,218.13 L142.62,218.13 L143.41,218.12 L144.20,218.11 L144.99,218.12 L145.78,218.14 L146.56,218.18 L147.35,218.26 L148.14,218.38 L148.93,218.55 L149.71,218.77 L150.50,219.04 L151.29,219.36 L152.08,219.73 L152.86,220.14 L153.65,220.63 L154.44,221.23 L155.22,221.97 L156.01,222.90 L156.80,224.06 L157.59,225.38 L158.38,226.78 L159.16,228.31 L159.95,229.93 L160.74,231.61 L161.53,233.39 L162.31,235.29 L163.10,237.25 L163.89,239.30 L164.68,241.26 L165.46,243.06 L166.25,244.72 L167.04,246.31 L167.83,247.83 L168.61,249.27 L169.40,250.61 L169.40,277.02 L168.61,276.87 L167.83,276.61 L167.04,276.27 L166.25,275.86 L165.46,275.37 L164.68,274.83 L163.89,274.26 L163.10,273.64 L162.31,272.97 L161.53,272.26 L160.74,271.51 L159.95,270.72 L159.16,269.89 L158.38,269.02 L157.59,268.11 L156.80,267.15 L156.01,266.13 L155.22,265.05 L154.44,263.93 L153.65,262.75 L152.86,261.52 L152.08,260.23 L151.29,258.89 L150.50,257.50 L149.71,256.06 L148.93,254.57 L148.14,253.03 L147.35,251.43 L146.56,249.78 L145.78,248.04 L144.99,246.15 L144.20,244.04 L143.41,241.68 L142.62,239.19 L141.84,236.78 L141.05,234.38 L140.26,232.06 L139.47,229.84 L138.69,227.75 L137.90,225.87 Z" fill="#F7C698"/>
<path d="M137.90,225.87 L138.69,227.75 L139.47,229.84 L140.26,232.06 L141.05,234.38 L141.84,236.78 L142.62,239.19 L143.41,241.68 L144.20,244.04 L144.99,246.15 L145.78,248.04 L146.56,249.78 L147.35,251.43 L148.14,253.03 L148.93,254.57 L149.71,256.06 L150.50,257.50 L151.29,258.89 L152.08,260.23 L152.86,261.52 L153.65,262.75 L154.44,263.93 L155.22,265.05 L156.01,266.13 L156.80,267.15 L157.59,268.11 L158.38,269.02 L159.16,269.89 L159.95,270.72 L160.74,271.51 L161.53,272.26 L162.31,272.97 L163.10,273.64 L163.89,274.26 L164.68,274.83 L165.46,275.37 L166.25,275.86 L167.04,276.27 L167.83,276.61 L168.61,276.87 L169.40,277.02 L169.4,278.0 L137.9,278.0 Z" fill="#9B9DA2"/>
<path d="M117.23,218.14 L117.68,218.14 L118.27,218.14 L118.98,218.14 L119.77,218.14 L120.61,218.14 L121.48,218.14 L122.33,218.14 L123.14,218.14 L123.95,218.13 L124.80,218.10 L125.67,218.07 L126.55,218.04 L127.41,218.02 L128.24,218.03 L129.01,218.06 L129.71,218.14 L130.34,218.25 L130.91,218.39 L131.44,218.55 L131.93,218.74 L132.38,218.95 L132.82,219.18 L133.24,219.44 L133.65,219.72 L134.05,220.02 L134.41,220.35 L134.76,220.70 L135.09,221.08 L135.40,221.47 L135.70,221.88 L135.99,222.31 L136.28,222.74 L136.56,223.18 L136.82,223.63 L137.06,224.09 L137.30,224.57 L137.54,225.06 L137.77,225.58 L138.01,226.12 L138.25,226.68 L138.49,227.27 L138.74,227.89 L138.99,228.52 L139.23,229.18 L139.48,229.86 L139.73,230.54 L139.97,231.24 L140.22,231.93 L140.46,232.63 L140.70,233.32 L140.93,234.02 L141.16,234.73 L141.40,235.46 L141.65,236.22 L141.91,237.01 L142.19,237.85 L142.48,238.74 L142.79,239.69 L143.10,240.69 L143.42,241.71 L143.76,242.74 L144.10,243.76 L144.45,244.76 L144.82,245.73 L145.19,246.67 L145.58,247.58 L145.97,248.49 L146.38,249.38 L146.79,250.28 L147.22,251.17 L147.66,252.06 L148.10,252.96 L148.56,253.87 L149.04,254.79 L149.53,255.72 L150.03,256.65 L150.54,257.57 L151.04,258.47 L151.55,259.34 L152.04,260.18 L152.54,260.99 L153.03,261.78 L153.52,262.55 L154.02,263.30 L154.51,264.03 L155.00,264.74 L155.49,265.43 L155.99,266.10 L156.48,266.74 L156.97,267.36 L157.46,267.96 L157.96,268.54 L158.45,269.10 L158.94,269.65 L159.44,270.18 L159.93,270.69 L160.42,271.20 L160.91,271.68 L161.41,272.15 L161.90,272.61 L162.39,273.04 L162.88,273.46 L163.38,273.86 L163.87,274.24 L164.36,274.61 L164.85,274.96 L165.35,275.30 L165.84,275.61 L166.33,275.91 L166.83,276.17 L167.32,276.41 L167.81,276.61 L168.26,276.76 L168.64,276.88 L169.00,276.96 L169.37,277.02 L169.79,277.05 L170.31,277.08 L170.95,277.10 L171.75,277.13 L172.74,277.16 L173.89,277.17 L175.16,277.17 L176.52,277.17 L177.94,277.16 L179.39,277.14 L180.84,277.14 L182.26,277.13 L183.76,277.13 L185.40,277.13 L187.12,277.13 L188.83,277.13 L190.46,277.13 L191.93,277.13 L193.17,277.13 L194.09,277.13" fill="none" stroke="#6f7176" stroke-width="1.15"/>
<path d="M132.07,218.14 L132.71,218.14 L133.56,218.14 L134.57,218.13 L135.69,218.13 L136.87,218.13 L138.06,218.13 L139.19,218.13 L140.22,218.14 L141.18,218.14 L142.15,218.13 L143.11,218.12 L144.05,218.11 L144.97,218.12 L145.85,218.14 L146.67,218.19 L147.45,218.27 L148.16,218.38 L148.81,218.52 L149.42,218.68 L149.99,218.85 L150.53,219.05 L151.05,219.26 L151.55,219.48 L152.04,219.72 L152.52,219.96 L152.97,220.21 L153.40,220.47 L153.81,220.74 L154.20,221.04 L154.58,221.36 L154.96,221.70 L155.33,222.08 L155.69,222.49 L156.03,222.92 L156.36,223.39 L156.68,223.87 L157.00,224.38 L157.32,224.91 L157.63,225.46 L157.96,226.02 L158.29,226.62 L158.63,227.26 L158.97,227.93 L159.31,228.61 L159.65,229.30 L159.97,229.98 L160.29,230.64 L160.58,231.28 L160.86,231.87 L161.11,232.43 L161.34,232.96 L161.57,233.49 L161.80,234.04 L162.03,234.60 L162.28,235.21 L162.56,235.88 L162.85,236.60 L163.15,237.38 L163.46,238.20 L163.79,239.04 L164.12,239.90 L164.46,240.76 L164.82,241.61 L165.18,242.45 L165.56,243.28 L165.96,244.12 L166.37,244.97 L166.78,245.81 L167.21,246.65 L167.63,247.47 L168.05,248.26 L168.47,249.02 L168.87,249.73 L169.27,250.41 L169.67,251.05 L170.07,251.68 L170.47,252.31 L170.89,252.94 L171.31,253.59 L171.75,254.27 L172.21,254.97 L172.66,255.69 L173.12,256.41 L173.60,257.14 L174.09,257.89 L174.60,258.64 L175.13,259.41 L175.69,260.18 L176.29,260.98 L176.92,261.81 L177.57,262.66 L178.24,263.51 L178.92,264.36 L179.61,265.19 L180.28,265.99 L180.95,266.75 L181.61,267.48 L182.26,268.19 L182.92,268.88 L183.58,269.54 L184.23,270.19 L184.89,270.82 L185.55,271.42 L186.21,272.01 L186.88,272.58 L187.57,273.15 L188.26,273.70 L188.96,274.23 L189.63,274.72 L190.29,275.18 L190.90,275.59 L191.46,275.95 L191.99,276.25 L192.50,276.49 L192.98,276.69 L193.43,276.85 L193.84,276.98 L194.20,277.09 L194.51,277.18 L194.75,277.26" fill="none" stroke="#EF9440" stroke-width="1.5"/>
<line x1="138.25" y1="279.9" x2="138.25" y2="282.6" stroke="#333" stroke-width="0.5"/>
<circle cx="138.25" cy="226.68" r="0.55" fill="#222"/>
<circle cx="138.25" cy="218.13" r="0.55" fill="#222"/>
<line x1="141.64" y1="279.9" x2="141.64" y2="282.6" stroke="#333" stroke-width="0.5"/>
<circle cx="141.64" cy="236.18" r="0.55" fill="#222"/>
<circle cx="141.64" cy="218.14" r="0.55" fill="#222"/>
<line x1="145.03" y1="279.9" x2="145.03" y2="282.6" stroke="#333" stroke-width="0.5"/>
<circle cx="145.03" cy="246.26" r="0.55" fill="#222"/>
<circle cx="145.03" cy="218.12" r="0.55" fill="#222"/>
<line x1="148.42" y1="279.9" x2="148.42" y2="282.6" stroke="#333" stroke-width="0.5"/>
<circle cx="148.42" cy="253.58" r="0.55" fill="#222"/>
<circle cx="148.42" cy="218.44" r="0.55" fill="#222"/>
<line x1="151.81" y1="279.9" x2="151.81" y2="282.6" stroke="#333" stroke-width="0.5"/>
<circle cx="151.81" cy="259.79" r="0.55" fill="#222"/>
<circle cx="151.81" cy="219.60" r="0.55" fill="#222"/>
<line x1="155.20" y1="279.9" x2="155.20" y2="282.6" stroke="#333" stroke-width="0.5"/>
<circle cx="155.20" cy="265.02" r="0.55" fill="#222"/>
<circle cx="155.20" cy="221.95" r="0.55" fill="#222"/>
<line x1="158.59" y1="279.9" x2="158.59" y2="282.6" stroke="#333" stroke-width="0.5"/>
<circle cx="158.59" cy="269.26" r="0.55" fill="#222"/>
<circle cx="158.59" cy="227.19" r="0.55" fill="#222"/>
<line x1="161.98" y1="279.9" x2="161.98" y2="282.6" stroke="#333" stroke-width="0.5"/>
<circle cx="161.98" cy="272.68" r="0.55" fill="#222"/>
<circle cx="161.98" cy="234.48" r="0.55" fill="#222"/>
<line x1="165.37" y1="279.9" x2="165.37" y2="282.6" stroke="#333" stroke-width="0.5"/>
<circle cx="165.37" cy="275.31" r="0.55" fill="#222"/>
<circle cx="165.37" cy="242.85" r="0.55" fill="#222"/>
<line x1="168.76" y1="279.9" x2="168.76" y2="282.6" stroke="#333" stroke-width="0.5"/>
<circle cx="168.76" cy="276.91" r="0.55" fill="#222"/>
<circle cx="168.76" cy="249.53" r="0.55" fill="#222"/>
<path d="M111.7,208 V281.3 H217" fill="none" stroke="#222" stroke-width="0.8"/>
<path d="M111.7,205 L109.4,210 H114 Z" fill="#222"/><path d="M220.4,281.3 L215.4,279 V283.6 Z" fill="#222"/>
<text x="106.8" y="273.7" font-size="9.2" text-anchor="start" fill="#333" textLength="59.7" lengthAdjust="spacingAndGlyphs" transform="rotate(-90 106.8 273.7)" >Protein Solubility</text>
<text x="175.6" y="222.9" font-size="9.2" text-anchor="start" fill="#EF9440" textLength="24.7" lengthAdjust="spacingAndGlyphs" >Protein</text>
<text x="178.5" y="234.3" font-size="9.2" text-anchor="start" fill="#EF9440" textLength="21.8" lengthAdjust="spacingAndGlyphs" >+Drug</text>
<g transform="translate(118.10,238.80)" fill="none" stroke="#8a8c92" stroke-width="0.45" stroke-linejoin="round"><path d="M7,0.4 C7.6,3.5 11.6,7.5 11.6,9.8 C11.6,12 8.5,12.4 6,12.4 C3.2,12.4 0.4,11.8 0.6,10 C0.9,7.6 5,4.2 7,0.4 Z"/><ellipse cx="7" cy="8.4" rx="3.6" ry="2.5" transform="rotate(-20 7 8.4)"/><ellipse cx="4.6" cy="9.8" rx="3.2" ry="1.9" transform="rotate(-25 4.6 9.8)"/><path d="M3.2,8.2 C3.6,5 7.6,3 8.6,5.6 C9.4,7.8 5.4,9.4 3.8,11.4"/><path d="M2,11 C4.5,9.4 8.5,9.8 10.6,11.2"/><path d="M7,0.4 C6.4,3.4 7.6,6 7.2,7.4"/></g>
<g transform="translate(181.30,238.80)" fill="none" stroke="#EF9440" stroke-width="0.55" stroke-linejoin="round"><path d="M7,0.4 C7.6,3.5 11.6,7.5 11.6,9.8 C11.6,12 8.5,12.4 6,12.4 C3.2,12.4 0.4,11.8 0.6,10 C0.9,7.6 5,4.2 7,0.4 Z"/><ellipse cx="7" cy="8.4" rx="3.6" ry="2.5" transform="rotate(-20 7 8.4)"/><ellipse cx="4.6" cy="9.8" rx="3.2" ry="1.9" transform="rotate(-25 4.6 9.8)"/><path d="M3.2,8.2 C3.6,5 7.6,3 8.6,5.6 C9.4,7.8 5.4,9.4 3.8,11.4"/><path d="M2,11 C4.5,9.4 8.5,9.8 10.6,11.2"/><path d="M7,0.4 C6.4,3.4 7.6,6 7.2,7.4"/></g>
<polygon points="187.30,250.40 187.87,251.92 189.49,251.99 188.22,253.00 188.65,254.56 187.30,253.67 185.95,254.56 186.38,253.00 185.11,251.99 186.73,251.92" fill="#C22C3A" stroke="#5a1a1a" stroke-width="0.2"/>
<path d="M138.2,282.5 L93.3,298.1 M168.9,282.5 L205.7,298.1" stroke="#222" stroke-width="0.7" stroke-dasharray="2.6 1.8" fill="none"/>
<defs><linearGradient id="tg" x1="0" x2="1" y1="0" y2="0"><stop offset="0" stop-color="#1D6FBE"/><stop offset="0.28" stop-color="#29ABE2"/><stop offset="0.48" stop-color="#A9A39A"/><stop offset="0.68" stop-color="#F08D3F"/><stop offset="1" stop-color="#E8343A"/></linearGradient></defs>
<rect x="93.3" y="298.1" width="112.4" height="18.4" fill="#fff" stroke="#aaa" stroke-width="0.5"/>
<path d="M93.3,316.5 L205.7,298.1 V316.5 Z" fill="url(#tg)"/>
<text x="87.8" y="326.1" font-size="9.2" text-anchor="start" fill="#333" textLength="18.4" lengthAdjust="spacingAndGlyphs" >48°C</text>
<text x="197.1" y="325.6" font-size="9.2" text-anchor="start" fill="#333" textLength="18.2" lengthAdjust="spacingAndGlyphs" >59°C</text>
<text x="117.4" y="329.3" font-size="9.2" text-anchor="start" fill="#333" textLength="61.1" lengthAdjust="spacingAndGlyphs" >Temperature (°C)</text>
<text x="124.6" y="343.6" font-size="9.2" text-anchor="start" fill="#333" textLength="40.2" lengthAdjust="spacingAndGlyphs" >PISA Assay</text>
<path d="M319.83,196.17 V204.19 A1.82,1.82 0 0 0 323.46,204.19 V196.17 Z" fill="#CDD2DF" stroke="#6b7078" stroke-width="0.45"/>
<path d="M320.24,200.10 V204.19 A1.41,1.41 0 0 0 323.06,204.19 V200.10 Z" fill="#E9B95E"/>
<rect x="322.09" y="196.67" width="0.65" height="8.02" fill="#fff" opacity="0.35"/>
<path d="M318.90,194.70 H324.40 V195.51 L323.63,196.17 H319.67 L318.90,195.51 Z" fill="#3F4752"/>
<path d="M321.13,293.42 V301.78 A1.82,1.82 0 0 0 324.76,301.78 V293.42 Z" fill="#CDD2DF" stroke="#6b7078" stroke-width="0.45"/>
<path d="M321.54,297.49 V301.78 A1.41,1.41 0 0 0 324.36,301.78 V297.49 Z" fill="#E9B95E"/>
<rect x="323.39" y="293.92" width="0.65" height="8.36" fill="#fff" opacity="0.35"/>
<path d="M320.20,291.90 H325.70 V292.74 L324.93,293.42 H320.97 L320.20,292.74 Z" fill="#3F4752"/>
<path d="M326.09,196.17 V204.19 A1.82,1.82 0 0 0 329.72,204.19 V196.17 Z" fill="#CDD2DF" stroke="#6b7078" stroke-width="0.45"/>
<path d="M326.50,200.10 V204.19 A1.41,1.41 0 0 0 329.32,204.19 V200.10 Z" fill="#E9B95E"/>
<rect x="328.35" y="196.67" width="0.65" height="8.02" fill="#fff" opacity="0.35"/>
<path d="M325.16,194.70 H330.66 V195.51 L329.89,196.17 H325.93 L325.16,195.51 Z" fill="#3F4752"/>
<path d="M327.39,293.42 V301.78 A1.82,1.82 0 0 0 331.02,301.78 V293.42 Z" fill="#CDD2DF" stroke="#6b7078" stroke-width="0.45"/>
<path d="M327.80,297.49 V301.78 A1.41,1.41 0 0 0 330.62,301.78 V297.49 Z" fill="#E9B95E"/>
<rect x="329.65" y="293.92" width="0.65" height="8.36" fill="#fff" opacity="0.35"/>
<path d="M326.46,291.90 H331.96 V292.74 L331.19,293.42 H327.23 L326.46,292.74 Z" fill="#3F4752"/>
<path d="M332.35,196.17 V204.19 A1.82,1.82 0 0 0 335.98,204.19 V196.17 Z" fill="#CDD2DF" stroke="#6b7078" stroke-width="0.45"/>
<path d="M332.76,200.10 V204.19 A1.41,1.41 0 0 0 335.58,204.19 V200.10 Z" fill="#E9B95E"/>
<rect x="334.61" y="196.67" width="0.65" height="8.02" fill="#fff" opacity="0.35"/>
<path d="M331.42,194.70 H336.92 V195.51 L336.15,196.17 H332.19 L331.42,195.51 Z" fill="#3F4752"/>
<path d="M333.65,293.42 V301.78 A1.82,1.82 0 0 0 337.28,301.78 V293.42 Z" fill="#CDD2DF" stroke="#6b7078" stroke-width="0.45"/>
<path d="M334.06,297.49 V301.78 A1.41,1.41 0 0 0 336.88,301.78 V297.49 Z" fill="#E9B95E"/>
<rect x="335.91" y="293.92" width="0.65" height="8.36" fill="#fff" opacity="0.35"/>
<path d="M332.72,291.90 H338.22 V292.74 L337.45,293.42 H333.49 L332.72,292.74 Z" fill="#3F4752"/>
<path d="M338.61,196.17 V204.19 A1.82,1.82 0 0 0 342.24,204.19 V196.17 Z" fill="#CDD2DF" stroke="#6b7078" stroke-width="0.45"/>
<path d="M339.02,200.10 V204.19 A1.41,1.41 0 0 0 341.84,204.19 V200.10 Z" fill="#E9B95E"/>
<rect x="340.87" y="196.67" width="0.65" height="8.02" fill="#fff" opacity="0.35"/>
<path d="M337.68,194.70 H343.18 V195.51 L342.41,196.17 H338.45 L337.68,195.51 Z" fill="#3F4752"/>
<path d="M339.92,293.42 V301.78 A1.82,1.82 0 0 0 343.55,301.78 V293.42 Z" fill="#CDD2DF" stroke="#6b7078" stroke-width="0.45"/>
<path d="M340.32,297.49 V301.78 A1.41,1.41 0 0 0 343.14,301.78 V297.49 Z" fill="#E9B95E"/>
<rect x="342.17" y="293.92" width="0.65" height="8.36" fill="#fff" opacity="0.35"/>
<path d="M338.98,291.90 H344.48 V292.74 L343.71,293.42 H339.75 L338.98,292.74 Z" fill="#3F4752"/>
<path d="M344.88,196.17 V204.19 A1.82,1.82 0 0 0 348.50,204.19 V196.17 Z" fill="#CDD2DF" stroke="#6b7078" stroke-width="0.45"/>
<path d="M345.28,200.10 V204.19 A1.41,1.41 0 0 0 348.10,204.19 V200.10 Z" fill="#E9B95E"/>
<rect x="347.13" y="196.67" width="0.65" height="8.02" fill="#fff" opacity="0.35"/>
<path d="M343.94,194.70 H349.44 V195.51 L348.67,196.17 H344.71 L343.94,195.51 Z" fill="#3F4752"/>
<path d="M346.18,293.42 V301.78 A1.82,1.82 0 0 0 349.81,301.78 V293.42 Z" fill="#CDD2DF" stroke="#6b7078" stroke-width="0.45"/>
<path d="M346.58,297.49 V301.78 A1.41,1.41 0 0 0 349.40,301.78 V297.49 Z" fill="#E9B95E"/>
<rect x="348.43" y="293.92" width="0.65" height="8.36" fill="#fff" opacity="0.35"/>
<path d="M345.24,291.90 H350.74 V292.74 L349.97,293.42 H346.01 L345.24,292.74 Z" fill="#3F4752"/>
<path d="M351.13,196.17 V204.19 A1.82,1.82 0 0 0 354.76,204.19 V196.17 Z" fill="#CDD2DF" stroke="#6b7078" stroke-width="0.45"/>
<path d="M351.54,200.10 V204.19 A1.41,1.41 0 0 0 354.36,204.19 V200.10 Z" fill="#E9B95E"/>
<rect x="353.39" y="196.67" width="0.65" height="8.02" fill="#fff" opacity="0.35"/>
<path d="M350.20,194.70 H355.70 V195.51 L354.93,196.17 H350.97 L350.20,195.51 Z" fill="#3F4752"/>
<path d="M352.44,293.42 V301.78 A1.82,1.82 0 0 0 356.06,301.78 V293.42 Z" fill="#CDD2DF" stroke="#6b7078" stroke-width="0.45"/>
<path d="M352.84,297.49 V301.78 A1.41,1.41 0 0 0 355.66,301.78 V297.49 Z" fill="#E9B95E"/>
<rect x="354.69" y="293.92" width="0.65" height="8.36" fill="#fff" opacity="0.35"/>
<path d="M351.50,291.90 H357.00 V292.74 L356.23,293.42 H352.27 L351.50,292.74 Z" fill="#3F4752"/>
<path d="M311.00,232.80 L311.06,230.89 L311.26,228.99 L311.60,227.12 L312.09,225.27 L312.71,223.46 L313.46,221.70 L314.34,220.00 L315.34,218.37 L316.47,216.82 L317.71,215.36 L319.05,213.99 L320.49,212.73 L322.02,211.58 L323.64,210.54 L325.33,209.63 L327.08,208.84 L328.89,208.19 L330.74,207.67 L332.63,207.29 L334.54,207.06 L336.46,206.96 L338.38,207.01 L340.30,207.21 L342.20,207.54 L344.07,208.02 L345.90,208.63 L347.68,209.38 L349.39,210.26 L351.04,211.27 L352.61,212.40 L354.10,213.64 L355.48,214.98 L356.77,216.43 L357.94,217.97 L358.99,219.60 L359.92,221.30 L360.73,223.06 L361.39,224.88 L361.93,226.75 L362.32,228.65 L361.03,228.86 L360.68,227.05 L360.20,225.26 L359.58,223.52 L358.84,221.83 L357.97,220.20 L356.98,218.64 L355.88,217.15 L354.67,215.75 L353.36,214.45 L351.95,213.24 L350.46,212.14 L348.89,211.16 L347.24,210.29 L345.54,209.55 L343.79,208.94 L342.00,208.46 L340.17,208.12 L338.32,207.91 L336.46,207.84 L334.60,207.90 L332.75,208.11 L330.92,208.46 L329.12,208.94 L327.36,209.55 L325.65,210.29 L324.00,211.16 L322.42,212.15 L320.91,213.25 L319.49,214.47 L318.17,215.78 L316.94,217.20 L315.82,218.70 L314.82,220.28 L313.94,221.93 L313.18,223.64 L312.55,225.41 L312.06,227.22 L311.70,229.06 L311.48,230.92 L311.40,232.80 Z" fill="#222"/>
<path d="M362.3,232 L357.9,226.2 L361.3,226.7 L364.9,225.2 Z" fill="#222"/>
<path d="M365.80,263.60 L365.74,265.52 L365.54,267.44 L365.19,269.33 L364.70,271.19 L364.08,273.02 L363.32,274.79 L362.44,276.50 L361.42,278.14 L360.29,279.70 L359.04,281.18 L357.69,282.55 L356.23,283.83 L354.69,284.99 L353.06,286.03 L351.36,286.95 L349.59,287.74 L347.77,288.40 L345.90,288.92 L344.00,289.30 L342.08,289.54 L340.14,289.64 L338.20,289.59 L336.27,289.39 L334.36,289.05 L332.47,288.57 L330.63,287.95 L328.84,287.20 L327.11,286.31 L325.45,285.30 L323.86,284.16 L322.37,282.91 L320.97,281.55 L319.68,280.09 L318.50,278.54 L317.44,276.90 L316.50,275.19 L315.69,273.41 L315.02,271.58 L314.48,269.70 L314.09,267.78 L315.37,267.57 L315.72,269.40 L316.21,271.20 L316.83,272.95 L317.58,274.66 L318.46,276.30 L319.45,277.88 L320.57,279.37 L321.79,280.78 L323.11,282.10 L324.53,283.32 L326.03,284.42 L327.62,285.41 L329.27,286.29 L330.99,287.03 L332.75,287.65 L334.56,288.13 L336.40,288.48 L338.26,288.69 L340.14,288.76 L342.01,288.69 L343.88,288.49 L345.72,288.14 L347.54,287.66 L349.31,287.04 L351.04,286.29 L352.70,285.41 L354.30,284.42 L355.81,283.30 L357.25,282.08 L358.58,280.75 L359.82,279.33 L360.94,277.81 L361.95,276.22 L362.84,274.56 L363.60,272.83 L364.24,271.05 L364.73,269.23 L365.10,267.37 L365.32,265.49 L365.40,263.60 Z" fill="#222"/>
<path d="M314,263.2 L318.6,268.8 L315.2,268.5 L311.5,270 Z" fill="#222"/>
<path d="M299,237 L302.8,256.5 Q312.5,259.3 322.2,256.5 L326.4,237 Z" fill="#0d0d0f"/>
<ellipse cx="312.7" cy="236.8" rx="13.8" ry="3.3" fill="#0d0d0f"/>
<ellipse cx="312.7" cy="236.6" rx="12" ry="2.5" fill="#1B6FAE"/>
<path d="M303.5,235.48 L306.0,234.2 L308.5,235.32 L307.5,237.39999999999998 L304.25,237.39999999999998 Z" fill="#2EA7E0"/>
<path d="M308.5,233.96 L311.2,232.6 L313.9,233.79 L312.82,236.0 L309.31,236.0 Z" fill="#2EA7E0"/>
<path d="M314,234.68 L316.5,233.4 L319,234.52 L318.0,236.6 L314.75,236.6 Z" fill="#2EA7E0"/>
<path d="M318.6,235.0 L320.90000000000003,233.8 L323.20000000000005,234.85000000000002 L322.28000000000003,236.8 L319.29,236.8 Z" fill="#2EA7E0"/>
<path d="M306,237.34 L308.5,236.3 L311,237.21 L310.0,238.9 L306.75,238.9 Z" fill="#2EA7E0"/>
<path d="M312,237.12 L314.5,236 L317,236.98 L316.0,238.8 L312.75,238.8 Z" fill="#2EA7E0"/>
<path d="M317,237.36 L319.3,236.4 L321.6,237.24 L320.68,238.8 L317.69,238.8 Z" fill="#2EA7E0"/>
<path d="M300.5,242.6 Q312.7,249.4 325,242.6" fill="none" stroke="#8d9096" stroke-width="0.5"/>
<text x="283.1" y="228" font-size="8.8" text-anchor="start" fill="#222" textLength="21.2" lengthAdjust="spacingAndGlyphs" >-78°C</text>
<text x="369.7" y="228.9" font-size="8.8" text-anchor="start" fill="#222" textLength="18.3" lengthAdjust="spacingAndGlyphs" >25°C</text>
<text x="333.8" y="249.5" font-size="6.3" text-anchor="start" fill="#222" textLength="7.3" lengthAdjust="spacingAndGlyphs" >5X</text>
<polygon points="352.07,253.16 358.25,237.66 364.68,232.60 385.16,234.85 386.93,236.86 386.93,239.51 393.35,240.96 394.00,242.08 394.00,254.13 372.87,262.32 352.07,254.29" fill="#E2E2E6" stroke="#3a3a3e" stroke-width="0.6" stroke-linejoin="round"/>
<polygon points="352.23,252.92 358.25,237.66 378.09,242.56 372.87,256.70" fill="#EBEBEE" stroke="#3a3a3e" stroke-width="0.6" stroke-linejoin="round"/>
<polyline points="372.87,256.70 394.00,250.27" fill="none" stroke="#3a3a3e" stroke-width="0.55"/>
<polyline points="372.87,256.70 372.87,262.16" fill="none" stroke="#3a3a3e" stroke-width="0.4"/>
<polyline points="378.09,242.56 393.35,240.96" fill="none" stroke="#3a3a3e" stroke-width="0.5"/>
<polygon points="362.51,235.82 364.68,232.60 385.16,234.85 386.93,236.86 386.93,239.83 377.93,241.28 376.73,238.06" fill="#F6F6F8" stroke="#3a3a3e" stroke-width="0.5" stroke-linejoin="round"/>
<polygon points="365.24,233.24 384.36,235.33 385.56,236.62 377.13,237.26 366.04,234.85" fill="#6a6c72"/>
<polyline points="367.89,233.73 368.94,235.82" fill="none" stroke="#d0d1d5" stroke-width="0.5"/>
<polyline points="370.78,234.05 371.83,236.14" fill="none" stroke="#d0d1d5" stroke-width="0.5"/>
<polyline points="373.67,234.37 374.72,236.46" fill="none" stroke="#d0d1d5" stroke-width="0.5"/>
<polyline points="376.57,234.69 377.61,236.78" fill="none" stroke="#d0d1d5" stroke-width="0.5"/>
<polyline points="379.46,235.01 380.50,237.10" fill="none" stroke="#d0d1d5" stroke-width="0.5"/>
<polyline points="382.35,235.33 383.39,237.42" fill="none" stroke="#d0d1d5" stroke-width="0.5"/>
<polygon points="377.77,237.26 386.77,236.78 386.77,239.83 378.09,241.12" fill="#FDFDFE" stroke="#3a3a3e" stroke-width="0.4" stroke-linejoin="round"/>
<polyline points="359.06,239.27 377.13,243.69" fill="none" stroke="#9a9ca2" stroke-width="0.4"/>
<polyline points="361.47,242.48 371.10,246.10" fill="none" stroke="#1f1f22" stroke-width="2.3" stroke-linecap="round"/>
<polyline points="361.63,242.56 370.94,246.02" fill="none" stroke="#8b8d92" stroke-width="1.5" stroke-linecap="round"/>
<polyline points="371.10,246.10 373.51,247.54" fill="none" stroke="#1f1f22" stroke-width="0.8"/>
<rect x="359.14" y="240.80" width="1" height="1" fill="#1f1f22"/><rect x="358.98" y="243.04" width="1" height="1" fill="#1f1f22"/>
<rect x="367.49" y="249.15" width="1.1" height="1.1" fill="#1f1f22"/><rect x="369.34" y="249.63" width="1.1" height="1.1" fill="#1f1f22"/>
<text x="291.7" y="315.3" font-size="9.6" text-anchor="start" fill="#222" textLength="91.4" lengthAdjust="spacingAndGlyphs" >Freeze thaw cell lysis</text>
<rect x="433.5" y="191.2" width="93.6" height="96" fill="none" stroke="#9a9ca2" stroke-width="0.5"/>
<rect x="471.3" y="200.6" width="42.9" height="73.6" fill="none" stroke="#9a9ca2" stroke-width="0.5"/>
<path d="M441.8,216 L445.5,279.6 H448.6 L452.3,216 Z" fill="#C6CDCC"/>
<path d="M445.3,216 L446.3,266 H447.9 L448.9,216 Z" fill="#AEB8B5"/>
<path d="M444.85,265.8 L445.4,275.5 H448.75 L449.3,265.8 Z" fill="#6FA088"/>
<path d="M445.4,275.5 L445.6,280.2 H448.5 L448.75,275.5 Z" fill="#fff"/>
<path d="M440.1,202.4 Q440.1,201.4 441.2,201.4 H452.8 Q453.9,201.4 453.9,202.4 L452.9,214.5 Q452.9,216.3 451.5,216.3 H442.5 Q441.1,216.3 441.1,214.5 Z" fill="#B9BDBD"/>
<line x1="442.6" y1="203" x2="442.6" y2="215" stroke="#cfd2d2" stroke-width="0.7"/>
<line x1="444.8" y1="203" x2="444.8" y2="215" stroke="#cfd2d2" stroke-width="0.7"/>
<line x1="447" y1="203" x2="447" y2="215" stroke="#cfd2d2" stroke-width="0.7"/>
<line x1="449.2" y1="203" x2="449.2" y2="215" stroke="#cfd2d2" stroke-width="0.7"/>
<line x1="451.4" y1="203" x2="451.4" y2="215" stroke="#cfd2d2" stroke-width="0.7"/>
<path d="M470.4,206.1 L447.4,265.8 M448.9,275.6 L471.3,274.2" stroke="#555" stroke-width="0.5" stroke-dasharray="3.2 2.4" fill="none"/>
<path d="M491.0,212.9 L491.3,212.6 L491.3,212.3 L491.2,212.0 L490.9,211.8 L490.4,211.7 L489.7,211.7 L488.9,211.9 L488.0,212.3 L487.0,212.8 L486.0,213.4 L485.0,214.2 L484.0,215.1 L483.1,216.0 L482.4,217.0 L481.7,218.0 L481.2,218.8 L480.8,219.6 L480.6,220.3 L480.5,220.8 L480.6,221.0 L480.8,221.1 L481.0,221.0 L481.3,220.6 L481.6,220.1 L481.9,219.4 L482.2,218.6 L482.4,217.6 L482.5,216.6 L482.5,215.6 L482.3,214.6 L482.0,213.6 L481.5,212.8 L481.0,212.1 L480.3,211.5 L479.6,211.1 L478.8,210.9 L477.9,210.8 L477.1,210.9 L476.4,211.1 L475.7,211.3 L475.2,211.6 L474.8,212.0 L474.5,212.3 L474.5,212.5 L474.6,212.6 L475.0,212.6 L475.5,212.4 L476.2,212.1 L477.0,211.7 L477.9,211.0 L478.9,210.3 L480.0,209.4 L481.0,208.5 L482.1,207.6 L483.0,206.6 L483.9,205.7 L484.6,204.9 L485.2,204.2 L485.6,203.7 L485.9,203.4 L486.0,203.3 L486.0,203.4 L485.9,203.7 L485.6,204.2 L485.3,204.9 L485.0,205.7 L484.6,206.6 L484.3,207.6 L484.1,208.7 L483.9,209.7 L483.8,210.7 L483.9,211.5 L484.1,212.3 L484.4,212.9 L484.9,213.3 L485.4,213.6 L486.1,213.7 L486.8,213.6 L487.5,213.5 L488.3,213.2 L489.0,212.9 L489.6,212.6 L490.1,212.3 L490.5,212.1 L490.7,211.9 L490.8,211.9 L490.6,212.0 L490.3,212.3 L489.8,212.7 L489.1,213.3 L488.2,214.0 L487.3,214.8 L486.2,215.7 L485.2,216.7 L484.1,217.6 L483.0,218.5 L482.0,219.3 L481.1,220.0 L480.3,220.6 L479.6,221.0 L479.1,221.1 L478.8,221.0 L478.6,220.8 L478.6,220.3 L478.7,219.7 L478.9,218.9 L479.3,217.9 L479.6,216.9 L480.0,215.9 L480.4,214.9 L480.7,213.9 L481.0,213.0 L481.2,212.2 L481.2,211.6 L481.1,211.1 L480.9,210.8 L480.6,210.7 L480.1,210.7 L479.6,210.8 L479.0,211.0 L478.3,211.3 L477.6,211.6 L477.0,211.9 L476.4,212.2 L475.9,212.4 L475.6,212.4 L475.4,212.4 L475.3,212.1 L475.5,211.7 L475.8,211.2 L476.3,210.5 L477.0,209.7 L477.8,208.8 L478.8,207.9 L479.8,206.9 L481.0,206.0 L482.1,205.2 L483.2,204.5 L484.2,203.9 L485.2,203.5 L486.1,203.3 L486.8,203.3 L487.3,203.6 L487.7,204.0 L487.9,204.6 L487.9,205.4 L487.8,206.3 L487.6,207.3 L487.3,208.3 L486.9,209.4 L486.4,210.4 L486.0,211.3 L485.6,212.1 L485.2,212.8 L484.9,213.3 L484.8,213.6 L484.7,213.8 L484.8,213.9 L485.0,213.7 L485.4,213.5" fill="none" stroke="#29A9E1" stroke-width="0.5" stroke-linejoin="round"/>
<ellipse cx="482.8" cy="212.7" rx="8.17" ry="6.88" fill="none" stroke="#29A9E1" stroke-width="0.5" transform="rotate(1 482.8 212.2)"/>
<path d="M505.1,214.0 L505.7,214.8 L506.4,215.5 L507.0,216.0 L507.6,216.3 L508.1,216.3 L508.5,216.3 L508.7,216.0 L508.8,215.7 L508.6,215.2 L508.3,214.8 L507.9,214.3 L507.2,213.9 L506.4,213.6 L505.4,213.5 L504.4,213.5 L503.3,213.6 L502.2,213.9 L501.1,214.3 L500.1,214.9 L499.1,215.6 L498.3,216.3 L497.6,217.0 L497.1,217.7 L496.7,218.3 L496.5,218.8 L496.5,219.1 L496.6,219.2 L496.9,219.2 L497.2,218.9 L497.6,218.4 L498.1,217.7 L498.5,216.8 L498.9,215.8 L499.2,214.6 L499.5,213.5 L499.6,212.3 L499.6,211.2 L499.5,210.1 L499.3,209.2 L498.9,208.4 L498.4,207.9 L497.9,207.5 L497.3,207.3 L496.7,207.3 L496.1,207.5 L495.6,207.7 L495.2,208.1 L494.9,208.5 L494.7,209.0 L494.7,209.3 L494.9,209.6 L495.3,209.8 L495.8,209.9 L496.5,209.8 L497.4,209.5 L498.4,209.1 L499.4,208.5 L500.5,207.8 L501.7,207.1 L502.8,206.3 L503.8,205.5 L504.7,204.8 L505.5,204.2 L506.2,203.8 L506.7,203.5 L507.0,203.4 L507.2,203.6 L507.1,203.9 L507.0,204.5 L506.7,205.3 L506.3,206.2 L505.8,207.3 L505.3,208.4 L504.9,209.6 L504.4,210.7 L504.0,211.8 L503.7,212.7 L503.6,213.6 L503.5,214.2 L503.6,214.7 L503.8,215.0 L504.1,215.1 L504.5,215.0 L505.0,214.8 L505.5,214.5 L506.0,214.1 L506.6,213.7 L507.0,213.3 L507.4,213.0 L507.6,212.8 L507.7,212.7 L507.7,212.8 L507.4,213.1 L507.0,213.5 L506.4,214.0 L505.7,214.7 L504.8,215.5 L503.8,216.3 L502.7,217.1 L501.6,217.9 L500.4,218.6 L499.4,219.2 L498.3,219.6 L497.4,219.8 L496.7,219.8 L496.0,219.6 L495.6,219.1 L495.3,218.5 L495.2,217.7 L495.3,216.7 L495.5,215.7 L495.9,214.5 L496.3,213.4 L496.8,212.3 L497.4,211.3 L497.9,210.4 L498.4,209.7 L498.8,209.2 L499.2,208.8 L499.4,208.6 L499.5,208.6 L499.5,208.8 L499.3,209.0 L499.1,209.4 L498.7,209.7 L498.3,210.1 L497.8,210.4 L497.3,210.6 L496.8,210.7 L496.4,210.7 L496.1,210.5 L495.9,210.1 L495.9,209.6 L496.0,208.9 L496.3,208.1 L496.8,207.3 L497.4,206.4 L498.2,205.5 L499.1,204.7 L500.1,204.0 L501.2,203.5 L502.3,203.1 L503.4,203.0 L504.5,203.0 L505.5,203.3 L506.4,203.8 L507.1,204.5 L507.7,205.4 L508.1,206.4 L508.3,207.4 L508.3,208.5 L508.2,209.6 L507.9,210.6 L507.5,211.6 L507.0,212.3 L506.4,212.9 L505.8,213.4 L505.2,213.6 L504.7,213.7 L504.2,213.6" fill="none" stroke="#2DA45B" stroke-width="0.5" stroke-linejoin="round"/>
<ellipse cx="501.5" cy="212.0" rx="7.9799999999999995" ry="6.720000000000001" fill="none" stroke="#2DA45B" stroke-width="0.5" transform="rotate(-39 501.5 211.5)"/>
<path d="M498.2,222.3 L498.8,223.3 L499.3,224.4 L499.9,225.5 L500.4,226.7 L500.8,227.9 L501.1,229.0 L501.3,230.0 L501.4,230.8 L501.3,231.5 L501.1,231.9 L500.7,232.2 L500.2,232.2 L499.5,232.0 L498.8,231.6 L497.9,231.1 L496.9,230.5 L495.9,229.8 L494.9,229.2 L493.9,228.5 L492.9,228.0 L491.9,227.5 L491.1,227.2 L490.3,227.1 L489.7,227.1 L489.2,227.3 L488.8,227.6 L488.6,228.0 L488.5,228.4 L488.6,229.0 L488.7,229.4 L489.0,229.9 L489.3,230.2 L489.7,230.3 L490.2,230.3 L490.6,230.1 L491.0,229.7 L491.4,229.1 L491.8,228.3 L492.0,227.4 L492.2,226.3 L492.3,225.1 L492.3,223.9 L492.2,222.7 L492.0,221.6 L491.8,220.6 L491.5,219.7 L491.1,219.0 L490.7,218.5 L490.3,218.3 L490.0,218.2 L489.7,218.3 L489.4,218.7 L489.3,219.1 L489.3,219.7 L489.4,220.3 L489.6,220.9 L490.0,221.4 L490.4,221.9 L491.1,222.3 L491.8,222.5 L492.7,222.6 L493.6,222.5 L494.6,222.3 L495.6,221.9 L496.6,221.4 L497.6,220.9 L498.5,220.3 L499.4,219.8 L500.1,219.3 L500.8,219.0 L501.3,218.8 L501.6,218.7 L501.8,218.9 L501.9,219.3 L501.8,219.9 L501.5,220.7 L501.2,221.6 L500.7,222.7 L500.1,223.9 L499.5,225.1 L498.9,226.3 L498.2,227.4 L497.6,228.4 L497.0,229.3 L496.4,230.0 L496.0,230.5 L495.6,230.8 L495.3,230.9 L495.1,230.8 L495.1,230.6 L495.1,230.2 L495.2,229.7 L495.3,229.1 L495.6,228.6 L495.8,228.1 L496.1,227.7 L496.3,227.4 L496.5,227.2 L496.6,227.2 L496.7,227.4 L496.7,227.7 L496.5,228.1 L496.2,228.6 L495.8,229.3 L495.3,229.9 L494.7,230.5 L494.0,231.0 L493.2,231.4 L492.4,231.7 L491.5,231.7 L490.6,231.6 L489.7,231.2 L488.9,230.7 L488.1,229.9 L487.4,229.0 L486.9,227.9 L486.4,226.8 L486.1,225.6 L486.0,224.4 L486.0,223.2 L486.2,222.2 L486.6,221.3 L487.0,220.6 L487.6,220.1 L488.3,219.7 L489.1,219.6 L489.9,219.7 L490.8,219.9 L491.7,220.2 L492.5,220.7 L493.3,221.2 L494.0,221.7 L494.6,222.1 L495.1,222.5 L495.5,222.7 L495.8,222.8 L495.9,222.7 L496.0,222.5 L496.0,222.1 L495.8,221.6 L495.7,221.0 L495.5,220.3 L495.2,219.6 L495.0,219.0 L494.8,218.4 L494.6,217.9 L494.5,217.6 L494.5,217.5 L494.6,217.6 L494.8,217.9 L495.1,218.4 L495.5,219.1 L496.0,220.0 L496.5,221.1 L497.2,222.2 L497.9,223.4 L498.6,224.6 L499.3,225.7 L500.0,226.7 L500.6,227.6" fill="none" stroke="#6A3D9E" stroke-width="0.5" stroke-linejoin="round"/>
<ellipse cx="494.3" cy="225.4" rx="7.885000000000001" ry="6.640000000000001" fill="none" stroke="#6A3D9E" stroke-width="0.5" transform="rotate(-25 494.3 224.9)"/>
<line x1="493.6" y1="235.3" x2="493.6" y2="243.8" stroke="#333" stroke-width="0.5"/><path d="M493.6,246 L492.4,243 H494.8 Z" fill="#333"/>
<g>
<path d="M480.5,254 l2,-2 l-1,3.5 l3,-1 l-1.5,3 l-2.5,0.5 l2.5,1.5" fill="none" stroke="#6A3D9E" stroke-width="0.55"/>
<path d="M484,252.5 l3,1.5 l2.5,-3 l1.5,3.5 l-3.5,3 l3.5,1 l-1,2.5 l-4.5,-0.5 l-2,3 l-3,-1" fill="none" stroke="#29A9E1" stroke-width="0.55"/>
<path d="M487.5,249.5 l1.5,3.5 l-2.5,2 l3.5,0.5 l1.5,2.5 l-3.5,1" fill="none" stroke="#6A3D9E" stroke-width="0.55"/>
<path d="M479,266 l2.5,-3 l2.5,1.5 l1,3.5 l-2.5,2.5 l-3,-1 l1.5,-2" fill="none" stroke="#29A9E1" stroke-width="0.55"/>
<path d="M484,269.5 l2,-3.5 l3.5,0.5 l-0.5,3.5 l3.5,-0.5 l0.5,-3.5 l1.5,3 l-2,3 l-4.5,0.5 l-2.5,-1" fill="none" stroke="#6A3D9E" stroke-width="0.55"/>
<path d="M493,250.5 l3,1 l3.5,-0.5 l-1,3.5 l-3.5,0.5 l1,3 l4,-0.5 l-1,3.5 l-4,1 l-2,-2.5 l1.5,-3" fill="none" stroke="#2DA45B" stroke-width="0.55"/>
<path d="M501.5,250 l1.5,3 l-1.5,2.5 l3,-0.5 l-0.5,-3" fill="none" stroke="#6A3D9E" stroke-width="0.55"/>
<path d="M503,258 l1,4 l4,-1 l1.5,3.5 l-2,3.5 l-2,-2.5 l-3,1.5 l-0.5,3 l-3.5,0.5 l-1.5,-3 l-2.5,1" fill="none" stroke="#29A9E1" stroke-width="0.55"/>
</g>
<path d="M433.7,287 L464.4,305.2 M527,287 L483.6,305.2" stroke="#666" stroke-width="0.5" stroke-dasharray="3.2 2.4" fill="none"/>
<path d="M444.1,313.2 H504.3 L503,336.6 H445.5 Z" fill="#fff" stroke="#1a1a1a" stroke-width="0.8" stroke-linejoin="round"/>
<path d="M453.6,336.5 C455.5,330 456.5,322 459.5,318.4 Q460.3,317.6 462,317.6 H487.9 Q489.6,317.6 490.4,318.4 C493.4,322 494.4,330 496.3,336.5" fill="none" stroke="#1a1a1a" stroke-width="0.7"/>
<path d="M458.6,318.3 H489.7 Q489,321.5 486,323.2 Q474,327 462,323.2 Q459.3,321.5 458.6,318.3 Z" fill="#6FA58A" stroke="#3b5f4e" stroke-width="0.4"/>
<rect x="444.7" y="305.8" width="59.2" height="7" fill="#F3F3F6"/>
<rect x="446.60" y="307.2" width="2.5" height="4" fill="#B3B7BB"/>
<rect x="450.10" y="307.2" width="2.5" height="4" fill="#B3B7BB"/>
<rect x="453.60" y="307.2" width="2.5" height="4" fill="#B3B7BB"/>
<rect x="457.10" y="307.2" width="2.5" height="4" fill="#B3B7BB"/>
<rect x="460.60" y="307.2" width="2.5" height="4" fill="#B3B7BB"/>
<rect x="464.10" y="307.2" width="2.5" height="4" fill="#B3B7BB"/>
<rect x="467.60" y="307.2" width="2.5" height="4" fill="#B3B7BB"/>
<rect x="471.10" y="307.2" width="2.5" height="4" fill="#B3B7BB"/>
<rect x="474.60" y="307.2" width="2.5" height="4" fill="#B3B7BB"/>
<rect x="478.10" y="307.2" width="2.5" height="4" fill="#B3B7BB"/>
<rect x="481.60" y="307.2" width="2.5" height="4" fill="#B3B7BB"/>
<rect x="485.10" y="307.2" width="2.5" height="4" fill="#B3B7BB"/>
<rect x="488.60" y="307.2" width="2.5" height="4" fill="#B3B7BB"/>
<rect x="492.10" y="307.2" width="2.5" height="4" fill="#B3B7BB"/>
<rect x="495.60" y="307.2" width="2.5" height="4" fill="#B3B7BB"/>
<rect x="499.10" y="307.2" width="2.5" height="4" fill="#B3B7BB"/>
<path d="M444.9,305.6 V312.4 H503.7 V305.6" fill="none" stroke="#DDB247" stroke-width="0.9"/>
<rect x="444.5" y="311.2" width="59.6" height="1.7" fill="#DDB247"/>
<rect x="464.4" y="305.2" width="19.2" height="26.4" fill="none" stroke="#6b6d72" stroke-width="0.5"/>
<rect x="471.6" y="313.7" width="4" height="1" fill="#111"/>
<text x="510.5" y="326.1" font-size="12.8" text-anchor="start" fill="#222" textLength="27.2" lengthAdjust="spacingAndGlyphs" >37°C</text>
<text x="432.7" y="353" font-size="9.6" text-anchor="start" fill="#222" textLength="101.9" lengthAdjust="spacingAndGlyphs" >On Tip protein digestion</text>
<rect x="79.9" y="419" width="246.6" height="164.89999999999998" fill="#fff" stroke="#444" stroke-width="0.6"/>
<rect x="91.11" y="454.10" width="22.99" height="129.80" fill="#EBDA90" stroke="#8a8a8a" stroke-width="0.5"/>
<rect x="119.85" y="452.10" width="22.99" height="131.80" fill="#D9A2A9" stroke="#8a8a8a" stroke-width="0.5"/>
<rect x="148.59" y="452.10" width="22.99" height="131.80" fill="#B297C0" stroke="#8a8a8a" stroke-width="0.5"/>
<rect x="177.33" y="472.00" width="22.99" height="111.90" fill="#6BA5BB" stroke="#8a8a8a" stroke-width="0.5"/>
<rect x="206.07" y="450.20" width="22.99" height="133.70" fill="#EBDA90" stroke="#8a8a8a" stroke-width="0.5"/>
<rect x="234.82" y="451.40" width="22.99" height="132.50" fill="#D9A2A9" stroke="#8a8a8a" stroke-width="0.5"/>
<rect x="263.56" y="452.30" width="22.99" height="131.60" fill="#B297C0" stroke="#8a8a8a" stroke-width="0.5"/>
<rect x="292.30" y="477.10" width="22.99" height="106.80" fill="#6BA5BB" stroke="#8a8a8a" stroke-width="0.5"/>
<line x1="79.9" y1="584.3" x2="326.5" y2="584.3" stroke="#444" stroke-width="0.6"/>
<line x1="102.61" y1="453.6" x2="102.61" y2="456" stroke="#3a3a3a" stroke-width="0.9"/>
<line x1="131.35" y1="451.6" x2="131.35" y2="452.4" stroke="#3a3a3a" stroke-width="0.9"/>
<line x1="160.09" y1="450" x2="160.09" y2="452.5" stroke="#3a3a3a" stroke-width="0.9"/>
<line x1="188.83" y1="468.9" x2="188.83" y2="472.1" stroke="#3a3a3a" stroke-width="0.9"/>
<line x1="217.57" y1="450" x2="217.57" y2="451" stroke="#3a3a3a" stroke-width="0.9"/>
<line x1="246.31" y1="451" x2="246.31" y2="452" stroke="#3a3a3a" stroke-width="0.9"/>
<line x1="275.05" y1="452" x2="275.05" y2="453" stroke="#3a3a3a" stroke-width="0.9"/>
<line x1="303.79" y1="477" x2="303.79" y2="480" stroke="#3a3a3a" stroke-width="0.9"/>
<circle cx="102.61" cy="450.9" r="0.95" fill="#b9a85e" stroke="#5f5f5f" stroke-width="0.3"/>
<circle cx="102.61" cy="454.8" r="0.95" fill="#b9a85e" stroke="#5f5f5f" stroke-width="0.3"/>
<circle cx="131.35" cy="452" r="0.95" fill="#9c6a72" stroke="#5f5f5f" stroke-width="0.3"/>
<circle cx="160.09" cy="455.3" r="0.95" fill="#6f5a80" stroke="#5f5f5f" stroke-width="0.3"/>
<circle cx="188.83" cy="475.7" r="0.95" fill="#3f6f84" stroke="#5f5f5f" stroke-width="0.3"/>
<circle cx="217.57" cy="448.8" r="0.95" fill="#b9a85e" stroke="#5f5f5f" stroke-width="0.3"/>
<circle cx="217.57" cy="451.4" r="0.95" fill="#b9a85e" stroke="#5f5f5f" stroke-width="0.3"/>
<circle cx="246.31" cy="451.4" r="0.95" fill="#9c6a72" stroke="#5f5f5f" stroke-width="0.3"/>
<circle cx="275.05" cy="452.3" r="0.95" fill="#6f5a80" stroke="#5f5f5f" stroke-width="0.3"/>
<circle cx="303.79" cy="472.8" r="0.95" fill="#3f6f84" stroke="#5f5f5f" stroke-width="0.3"/>
<circle cx="303.79" cy="477.7" r="0.95" fill="#3f6f84" stroke="#5f5f5f" stroke-width="0.3"/>
<circle cx="303.79" cy="479.4" r="0.95" fill="#3f6f84" stroke="#5f5f5f" stroke-width="0.3"/>
<text x="105.31" y="459.7" font-size="7.2" text-anchor="end" fill="#262626" transform="rotate(-90 105.31 459.7)" >6400</text>
<text x="134.05" y="456.7" font-size="7.2" text-anchor="end" fill="#262626" transform="rotate(-90 134.05 456.7)" >6479</text>
<text x="162.79" y="458.8" font-size="7.2" text-anchor="end" fill="#262626" transform="rotate(-90 162.79 458.8)" >6478</text>
<text x="191.53" y="480.7" font-size="7.2" text-anchor="end" fill="#262626" transform="rotate(-90 191.53 480.7)" >5507</text>
<text x="220.27" y="456.1" font-size="7.2" text-anchor="end" fill="#262626" transform="rotate(-90 220.27 456.1)" >6560</text>
<text x="249.01" y="455.4" font-size="7.2" text-anchor="end" fill="#262626" transform="rotate(-90 249.01 455.4)" >6518</text>
<text x="277.75" y="455.4" font-size="7.2" text-anchor="end" fill="#262626" transform="rotate(-90 277.75 455.4)" >6482</text>
<text x="306.49" y="485.3" font-size="7.2" text-anchor="end" fill="#262626" transform="rotate(-90 306.49 485.3)" >5244</text>
<line x1="77.7" y1="583.9" x2="79.9" y2="583.9" stroke="#888" stroke-width="0.5"/>
<text x="77.4" y="586.2" font-size="7.2" text-anchor="end" fill="#262626" >0</text>
<line x1="77.7" y1="563.7" x2="79.9" y2="563.7" stroke="#888" stroke-width="0.5"/>
<text x="77.4" y="566.0" font-size="7.2" text-anchor="end" fill="#262626" >1000</text>
<line x1="77.7" y1="543.2" x2="79.9" y2="543.2" stroke="#888" stroke-width="0.5"/>
<text x="77.4" y="545.5" font-size="7.2" text-anchor="end" fill="#262626" >2000</text>
<line x1="77.7" y1="523.1" x2="79.9" y2="523.1" stroke="#888" stroke-width="0.5"/>
<text x="77.4" y="525.4" font-size="7.2" text-anchor="end" fill="#262626" >3000</text>
<line x1="77.7" y1="502.6" x2="79.9" y2="502.6" stroke="#888" stroke-width="0.5"/>
<text x="77.4" y="504.9" font-size="7.2" text-anchor="end" fill="#262626" >4000</text>
<line x1="77.7" y1="482.1" x2="79.9" y2="482.1" stroke="#888" stroke-width="0.5"/>
<text x="77.4" y="484.4" font-size="7.2" text-anchor="end" fill="#262626" >5000</text>
<line x1="77.7" y1="462" x2="79.9" y2="462" stroke="#888" stroke-width="0.5"/>
<text x="77.4" y="464.3" font-size="7.2" text-anchor="end" fill="#262626" >6000</text>
<line x1="77.7" y1="443.2" x2="79.9" y2="443.2" stroke="#888" stroke-width="0.5"/>
<text x="77.4" y="445.5" font-size="7.2" text-anchor="end" fill="#262626" >7000</text>
<line x1="102.61" y1="584.3" x2="102.61" y2="586.5" stroke="#777" stroke-width="0.5"/>
<text x="107.31" y="591.9" font-size="7.28" text-anchor="end" fill="#262626" transform="rotate(-45 107.31 591.9)" >10µM STS 1.0% DDM</text>
<line x1="131.35" y1="584.3" x2="131.35" y2="586.5" stroke="#777" stroke-width="0.5"/>
<text x="136.05" y="591.9" font-size="7.28" text-anchor="end" fill="#262626" transform="rotate(-45 136.05 591.9)" >10µM STS 0.6% DDM</text>
<line x1="160.09" y1="584.3" x2="160.09" y2="586.5" stroke="#777" stroke-width="0.5"/>
<text x="164.09" y="591.2" font-size="7.28" text-anchor="end" fill="#262626" transform="rotate(-45 164.09 591.2)" >10µM STS 0.2% DDM</text>
<line x1="188.83" y1="584.3" x2="188.83" y2="586.5" stroke="#777" stroke-width="0.5"/>
<text x="191.63" y="590.1" font-size="7.28" text-anchor="end" fill="#262626" transform="rotate(-45 191.63 590.1)" >10µM STS  PBS</text>
<line x1="217.57" y1="584.3" x2="217.57" y2="586.5" stroke="#777" stroke-width="0.5"/>
<text x="220.27" y="589.7" font-size="7.28" text-anchor="end" fill="#262626" transform="rotate(-45 220.27 589.7)" >DMSO 1.0% DDM</text>
<line x1="246.31" y1="584.3" x2="246.31" y2="586.5" stroke="#777" stroke-width="0.5"/>
<text x="249.01" y="589.6" font-size="7.28" text-anchor="end" fill="#262626" transform="rotate(-45 249.01 589.6)" >DMSO 0.6% DDM</text>
<line x1="275.05" y1="584.3" x2="275.05" y2="586.5" stroke="#777" stroke-width="0.5"/>
<text x="277.85" y="589.5" font-size="7.28" text-anchor="end" fill="#262626" transform="rotate(-45 277.85 589.5)" >DMSO 0.2% DDM</text>
<line x1="303.79" y1="584.3" x2="303.79" y2="586.5" stroke="#777" stroke-width="0.5"/>
<text x="306.99" y="589.1" font-size="7.28" text-anchor="end" fill="#262626" transform="rotate(-45 306.99 589.1)" >DMSO PBS</text>
<text x="124" y="395.7" font-size="8.43" text-anchor="start" fill="#262626" textLength="169.2" lengthAdjust="spacingAndGlyphs" >Average number of proteins in each condition</text>
<text x="53.3" y="513.4" font-size="7.2" text-anchor="middle" fill="#262626" transform="rotate(-90 53.3 513.4)" >Number of protein groups Identified</text>
<rect x="114" y="403.3" width="183" height="14.699999999999989" rx="1.5" fill="#fff" stroke="#dcdcdc" stroke-width="0.6"/>
<circle cx="120.3" cy="410.90000000000003" r="2.1" fill="#EBDA90" stroke="#8a8a8a" stroke-width="0.4"/>
<text x="126" y="413.3" font-size="7.2" text-anchor="start" fill="#262626" >1.0% DDM</text>
<circle cx="170.3" cy="410.90000000000003" r="2.1" fill="#D9A2A9" stroke="#8a8a8a" stroke-width="0.4"/>
<text x="176" y="413.3" font-size="7.2" text-anchor="start" fill="#262626" >0.6% DDM</text>
<circle cx="219.8" cy="410.90000000000003" r="2.1" fill="#B297C0" stroke="#8a8a8a" stroke-width="0.4"/>
<text x="225.6" y="413.3" font-size="7.2" text-anchor="start" fill="#262626" >0.2% DDM</text>
<circle cx="267.1" cy="410.90000000000003" r="2.1" fill="#6BA5BB" stroke="#8a8a8a" stroke-width="0.4"/>
<text x="273.5" y="413.3" font-size="7.2" text-anchor="start" fill="#262626" >PBS</text>
<path d="M102.61,426.3 V429.90000000000003 M102.61,428.1 H188.83 M188.83,426.3 V429.90000000000003" stroke="#8c8c8c" stroke-width="0.55" fill="none"/>
<text x="145.4" y="427.7" font-size="6.65" text-anchor="middle" fill="#262626" >6.6e-05</text>
<path d="M131.35,435.59999999999997 V439.2 M131.35,437.4 H188.83 M188.83,435.59999999999997 V439.2" stroke="#8c8c8c" stroke-width="0.55" fill="none"/>
<text x="159.9" y="437.0" font-size="6.65" text-anchor="middle" fill="#262626" >3.9e-04</text>
<path d="M160.09,444.7 V448.3 M160.09,446.5 H188.83 M188.83,444.7 V448.3" stroke="#8c8c8c" stroke-width="0.55" fill="none"/>
<text x="173" y="446.1" font-size="6.65" text-anchor="middle" fill="#262626" >5.0e-05</text>
<path d="M217.57,425.59999999999997 V429.2 M217.57,427.4 H303.79 M303.79,425.59999999999997 V429.2" stroke="#8c8c8c" stroke-width="0.55" fill="none"/>
<text x="258.5" y="427.0" font-size="6.65" text-anchor="middle" fill="#262626" >1.7e-04</text>
<path d="M246.31,434.3 V437.90000000000003 M246.31,436.1 H303.79 M303.79,434.3 V437.90000000000003" stroke="#8c8c8c" stroke-width="0.55" fill="none"/>
<text x="274.7" y="435.7" font-size="6.65" text-anchor="middle" fill="#262626" >3.6e-04</text>
<path d="M275.05,443.0 V446.6 M275.05,444.8 H303.79 M303.79,443.0 V446.6" stroke="#8c8c8c" stroke-width="0.55" fill="none"/>
<text x="289.7" y="444.4" font-size="6.65" text-anchor="middle" fill="#262626" >4.6e-04</text>
<rect x="375.2" y="418.3" width="242.59999999999997" height="165.40000000000003" fill="#fff" stroke="#444" stroke-width="0.6"/>
<rect x="386.23" y="457.60" width="22.62" height="126.10" fill="#EBDA90" stroke="#8a8a8a" stroke-width="0.5"/>
<rect x="414.50" y="454.10" width="22.62" height="129.60" fill="#D9A2A9" stroke="#8a8a8a" stroke-width="0.5"/>
<rect x="442.78" y="453.20" width="22.62" height="130.50" fill="#B297C0" stroke="#8a8a8a" stroke-width="0.5"/>
<rect x="471.05" y="481.20" width="22.62" height="102.50" fill="#6BA5BB" stroke="#8a8a8a" stroke-width="0.5"/>
<rect x="499.33" y="451.30" width="22.62" height="132.40" fill="#EBDA90" stroke="#8a8a8a" stroke-width="0.5"/>
<rect x="527.60" y="453.30" width="22.62" height="130.40" fill="#D9A2A9" stroke="#8a8a8a" stroke-width="0.5"/>
<rect x="555.88" y="453.30" width="22.62" height="130.40" fill="#B297C0" stroke="#8a8a8a" stroke-width="0.5"/>
<rect x="584.15" y="486.20" width="22.62" height="97.50" fill="#6BA5BB" stroke="#8a8a8a" stroke-width="0.5"/>
<line x1="375.2" y1="583.6" x2="617.8" y2="583.6" stroke="#444" stroke-width="0.6"/>
<line x1="397.54" y1="456.5" x2="397.54" y2="458.5" stroke="#3a3a3a" stroke-width="0.9"/>
<line x1="425.81" y1="451.8" x2="425.81" y2="456.2" stroke="#3a3a3a" stroke-width="0.9"/>
<line x1="454.09" y1="450.6" x2="454.09" y2="453.9" stroke="#3a3a3a" stroke-width="0.9"/>
<line x1="482.36" y1="477.2" x2="482.36" y2="481.6" stroke="#3a3a3a" stroke-width="0.9"/>
<line x1="510.64" y1="450.5" x2="510.64" y2="452.5" stroke="#3a3a3a" stroke-width="0.9"/>
<line x1="538.91" y1="451.6" x2="538.91" y2="454.8" stroke="#3a3a3a" stroke-width="0.9"/>
<line x1="567.19" y1="451.8" x2="567.19" y2="454.2" stroke="#3a3a3a" stroke-width="0.9"/>
<line x1="595.46" y1="485" x2="595.46" y2="488" stroke="#3a3a3a" stroke-width="0.9"/>
<circle cx="397.54" cy="452.7" r="0.95" fill="#b9a85e" stroke="#5f5f5f" stroke-width="0.3"/>
<circle cx="397.54" cy="457" r="0.95" fill="#b9a85e" stroke="#5f5f5f" stroke-width="0.3"/>
<circle cx="397.54" cy="460.9" r="0.95" fill="#b9a85e" stroke="#5f5f5f" stroke-width="0.3"/>
<circle cx="425.81" cy="452.5" r="0.95" fill="#9c6a72" stroke="#5f5f5f" stroke-width="0.3"/>
<circle cx="454.09" cy="457" r="0.95" fill="#6f5a80" stroke="#5f5f5f" stroke-width="0.3"/>
<circle cx="482.36" cy="484.2" r="0.95" fill="#3f6f84" stroke="#5f5f5f" stroke-width="0.3"/>
<circle cx="482.36" cy="486.5" r="0.95" fill="#3f6f84" stroke="#5f5f5f" stroke-width="0.3"/>
<circle cx="510.64" cy="447.8" r="0.95" fill="#b9a85e" stroke="#5f5f5f" stroke-width="0.3"/>
<circle cx="538.91" cy="451.9" r="0.95" fill="#9c6a72" stroke="#5f5f5f" stroke-width="0.3"/>
<circle cx="538.91" cy="454.9" r="0.95" fill="#9c6a72" stroke="#5f5f5f" stroke-width="0.3"/>
<circle cx="567.19" cy="453" r="0.95" fill="#6f5a80" stroke="#5f5f5f" stroke-width="0.3"/>
<circle cx="595.46" cy="481.5" r="0.95" fill="#3f6f84" stroke="#5f5f5f" stroke-width="0.3"/>
<circle cx="595.46" cy="490.2" r="0.95" fill="#3f6f84" stroke="#5f5f5f" stroke-width="0.3"/>
<circle cx="595.46" cy="492" r="0.95" fill="#3f6f84" stroke="#5f5f5f" stroke-width="0.3"/>
<text x="400.24" y="465.8" font-size="7.2" text-anchor="end" fill="#262626" transform="rotate(-90 400.24 465.8)" >115803</text>
<text x="428.51" y="460.2" font-size="7.2" text-anchor="end" fill="#262626" transform="rotate(-90 428.51 460.2)" >119085</text>
<text x="456.79" y="459.3" font-size="7.2" text-anchor="end" fill="#262626" transform="rotate(-90 456.79 459.3)" >119652</text>
<text x="485.06" y="488.9" font-size="7.2" text-anchor="end" fill="#262626" transform="rotate(-90 485.06 488.9)" >93843</text>
<text x="513.34" y="457.3" font-size="7.2" text-anchor="end" fill="#262626" transform="rotate(-90 513.34 457.3)" >121720</text>
<text x="541.61" y="458.6" font-size="7.2" text-anchor="end" fill="#262626" transform="rotate(-90 541.61 458.6)" >119332</text>
<text x="569.89" y="456" font-size="7.2" text-anchor="end" fill="#262626" transform="rotate(-90 569.89 456)" >119998</text>
<text x="598.16" y="494.7" font-size="7.2" text-anchor="end" fill="#262626" transform="rotate(-90 598.16 494.7)" >89815</text>
<line x1="373.0" y1="583.6" x2="375.2" y2="583.6" stroke="#888" stroke-width="0.5"/>
<text x="372.8" y="585.9" font-size="7.2" text-anchor="end" fill="#262626" >0</text>
<line x1="373.0" y1="562" x2="375.2" y2="562" stroke="#888" stroke-width="0.5"/>
<text x="372.8" y="564.3" font-size="7.2" text-anchor="end" fill="#262626" >20000</text>
<line x1="373.0" y1="540.4" x2="375.2" y2="540.4" stroke="#888" stroke-width="0.5"/>
<text x="372.8" y="542.7" font-size="7.2" text-anchor="end" fill="#262626" >40000</text>
<line x1="373.0" y1="518.4" x2="375.2" y2="518.4" stroke="#888" stroke-width="0.5"/>
<text x="372.8" y="520.7" font-size="7.2" text-anchor="end" fill="#262626" >60000</text>
<line x1="373.0" y1="496.6" x2="375.2" y2="496.6" stroke="#888" stroke-width="0.5"/>
<text x="372.8" y="498.9" font-size="7.2" text-anchor="end" fill="#262626" >80000</text>
<line x1="373.0" y1="474.9" x2="375.2" y2="474.9" stroke="#888" stroke-width="0.5"/>
<text x="372.8" y="477.2" font-size="7.2" text-anchor="end" fill="#262626" >100000</text>
<line x1="373.0" y1="453.2" x2="375.2" y2="453.2" stroke="#888" stroke-width="0.5"/>
<text x="372.8" y="455.5" font-size="7.2" text-anchor="end" fill="#262626" >120000</text>
<line x1="373.0" y1="434.3" x2="375.2" y2="434.3" stroke="#888" stroke-width="0.5"/>
<text x="372.8" y="436.6" font-size="7.2" text-anchor="end" fill="#262626" >140000</text>
<line x1="397.54" y1="583.6" x2="397.54" y2="585.8000000000001" stroke="#777" stroke-width="0.5"/>
<text x="398.94" y="589.3" font-size="7.28" text-anchor="end" fill="#262626" transform="rotate(-45 398.94 589.3)" >10µM STS 1.0% DDM</text>
<line x1="425.81" y1="583.6" x2="425.81" y2="585.8000000000001" stroke="#777" stroke-width="0.5"/>
<text x="427.21" y="589.3" font-size="7.28" text-anchor="end" fill="#262626" transform="rotate(-45 427.21 589.3)" >10µM STS 0.6% DDM</text>
<line x1="454.09" y1="583.6" x2="454.09" y2="585.8000000000001" stroke="#777" stroke-width="0.5"/>
<text x="455.49" y="589.3" font-size="7.28" text-anchor="end" fill="#262626" transform="rotate(-45 455.49 589.3)" >10µM STS 0.2% DDM</text>
<line x1="482.36" y1="583.6" x2="482.36" y2="585.8000000000001" stroke="#777" stroke-width="0.5"/>
<text x="483.76" y="589.3" font-size="7.28" text-anchor="end" fill="#262626" transform="rotate(-45 483.76 589.3)" >10µM STS  PBS</text>
<line x1="510.64" y1="583.6" x2="510.64" y2="585.8000000000001" stroke="#777" stroke-width="0.5"/>
<text x="513.24" y="590.1" font-size="7.28" text-anchor="end" fill="#262626" transform="rotate(-45 513.24 590.1)" >DMSO 1.0% DDM</text>
<line x1="538.91" y1="583.6" x2="538.91" y2="585.8000000000001" stroke="#777" stroke-width="0.5"/>
<text x="541.51" y="590.1" font-size="7.28" text-anchor="end" fill="#262626" transform="rotate(-45 541.51 590.1)" >DMSO 0.6% DDM</text>
<line x1="567.19" y1="583.6" x2="567.19" y2="585.8000000000001" stroke="#777" stroke-width="0.5"/>
<text x="569.79" y="590.1" font-size="7.28" text-anchor="end" fill="#262626" transform="rotate(-45 569.79 590.1)" >DMSO 0.2% DDM</text>
<line x1="595.46" y1="583.6" x2="595.46" y2="585.8000000000001" stroke="#777" stroke-width="0.5"/>
<text x="598.06" y="590.1" font-size="7.28" text-anchor="end" fill="#262626" transform="rotate(-45 598.06 590.1)" >DMSO PBS</text>
<text x="392.4" y="396.5" font-size="8.43" text-anchor="start" fill="#262626" textLength="211" lengthAdjust="spacingAndGlyphs" >Average number of identified peptides for each condition</text>
<text x="345.8" y="513.7" font-size="7.2" text-anchor="middle" fill="#262626" transform="rotate(-90 345.8 513.7)" >Number of identified peptides</text>
<rect x="413.5" y="403" width="184.10000000000002" height="14.5" rx="1.5" fill="#fff" stroke="#dcdcdc" stroke-width="0.6"/>
<circle cx="421.5" cy="409.90000000000003" r="2.1" fill="#EBDA90" stroke="#8a8a8a" stroke-width="0.4"/>
<text x="427" y="412.3" font-size="7.2" text-anchor="start" fill="#262626" >1.0% DDM</text>
<circle cx="471.5" cy="409.90000000000003" r="2.1" fill="#D9A2A9" stroke="#8a8a8a" stroke-width="0.4"/>
<text x="477" y="412.3" font-size="7.2" text-anchor="start" fill="#262626" >0.6% DDM</text>
<circle cx="520.4" cy="409.90000000000003" r="2.1" fill="#B297C0" stroke="#8a8a8a" stroke-width="0.4"/>
<text x="526.1" y="412.3" font-size="7.2" text-anchor="start" fill="#262626" >0.2% DDM</text>
<circle cx="568" cy="409.90000000000003" r="2.1" fill="#6BA5BB" stroke="#8a8a8a" stroke-width="0.4"/>
<text x="574" y="412.3" font-size="7.2" text-anchor="start" fill="#262626" >PBS</text>
<path d="M397.54,425.5 V429.1 M397.54,427.3 H482.36 M482.36,425.5 V429.1" stroke="#8c8c8c" stroke-width="0.55" fill="none"/>
<text x="440.9" y="426.9" font-size="6.65" text-anchor="middle" fill="#262626" >9.9e-05</text>
<path d="M425.81,434.7 V438.3 M425.81,436.5 H482.36 M482.36,434.7 V438.3" stroke="#8c8c8c" stroke-width="0.55" fill="none"/>
<text x="455.5" y="436.1" font-size="6.65" text-anchor="middle" fill="#262626" >1.1e-04</text>
<path d="M454.09,444.4 V448.0 M454.09,446.2 H482.36 M482.36,444.4 V448.0" stroke="#8c8c8c" stroke-width="0.55" fill="none"/>
<text x="466.9" y="445.8" font-size="6.65" text-anchor="middle" fill="#262626" >4.0e-05</text>
<path d="M510.64,424.9 V428.5 M510.64,426.7 H595.46 M595.46,424.9 V428.5" stroke="#8c8c8c" stroke-width="0.55" fill="none"/>
<text x="549.8" y="426.3" font-size="6.65" text-anchor="middle" fill="#262626" >3.9e-05</text>
<path d="M538.91,433.8 V437.40000000000003 M538.91,435.6 H595.46 M595.46,433.8 V437.40000000000003" stroke="#8c8c8c" stroke-width="0.55" fill="none"/>
<text x="566" y="435.2" font-size="6.65" text-anchor="middle" fill="#262626" >9.7e-05</text>
<path d="M567.19,442.5 V446.1 M567.19,444.3 H595.46 M595.46,442.5 V446.1" stroke="#8c8c8c" stroke-width="0.55" fill="none"/>
<text x="581" y="443.9" font-size="6.65" text-anchor="middle" fill="#262626" >4.2e-04</text>
</svg></body></html>
